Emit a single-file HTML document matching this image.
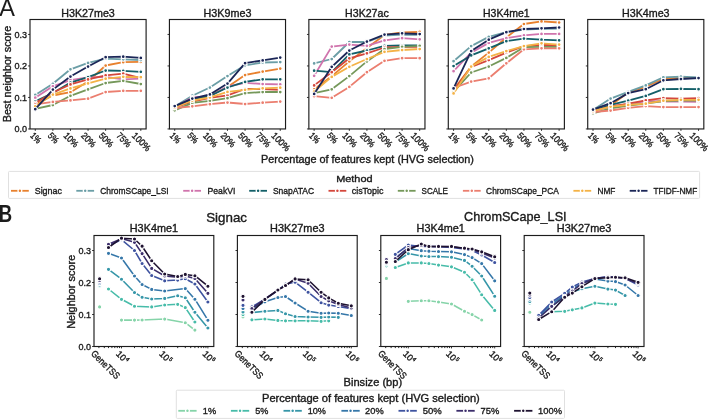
<!DOCTYPE html>
<html><head><meta charset="utf-8"><style>
html,body{margin:0;padding:0;background:#fff;overflow:hidden;}
svg{display:block;font-family:"Liberation Sans", sans-serif;}
text{stroke:#181818;stroke-width:0.35px;}
svg{will-change:transform;}
</style></head><body>
<svg width="708" height="419" viewBox="0 0 708 419">
<rect width="708" height="419" fill="#fff"/>
<polyline points="35.28,104.40 52.87,95.50 70.46,92.20 88.05,81.50 105.64,65.50 123.23,62.20 140.82,61.90" fill="none" stroke="#e8812e" stroke-width="1.8" stroke-linejoin="round" stroke-linecap="butt"/>
<circle cx="35.28" cy="104.40" r="1.95" fill="#e8812e" stroke="#fff" stroke-width="1.15"/>
<circle cx="52.87" cy="95.50" r="1.95" fill="#e8812e" stroke="#fff" stroke-width="1.15"/>
<circle cx="70.46" cy="92.20" r="1.95" fill="#e8812e" stroke="#fff" stroke-width="1.15"/>
<circle cx="88.05" cy="81.50" r="1.95" fill="#e8812e" stroke="#fff" stroke-width="1.15"/>
<circle cx="105.64" cy="65.50" r="1.95" fill="#e8812e" stroke="#fff" stroke-width="1.15"/>
<circle cx="123.23" cy="62.20" r="1.95" fill="#e8812e" stroke="#fff" stroke-width="1.15"/>
<circle cx="140.82" cy="61.90" r="1.95" fill="#e8812e" stroke="#fff" stroke-width="1.15"/>
<polyline points="35.28,94.90 52.87,83.80 70.46,69.30 88.05,62.90 105.64,58.60 123.23,59.30 140.82,60.00" fill="none" stroke="#6b9ea6" stroke-width="1.8" stroke-linejoin="round" stroke-linecap="butt"/>
<circle cx="35.28" cy="94.90" r="1.95" fill="#6b9ea6" stroke="#fff" stroke-width="1.15"/>
<circle cx="52.87" cy="83.80" r="1.95" fill="#6b9ea6" stroke="#fff" stroke-width="1.15"/>
<circle cx="70.46" cy="69.30" r="1.95" fill="#6b9ea6" stroke="#fff" stroke-width="1.15"/>
<circle cx="88.05" cy="62.90" r="1.95" fill="#6b9ea6" stroke="#fff" stroke-width="1.15"/>
<circle cx="105.64" cy="58.60" r="1.95" fill="#6b9ea6" stroke="#fff" stroke-width="1.15"/>
<circle cx="123.23" cy="59.30" r="1.95" fill="#6b9ea6" stroke="#fff" stroke-width="1.15"/>
<circle cx="140.82" cy="60.00" r="1.95" fill="#6b9ea6" stroke="#fff" stroke-width="1.15"/>
<polyline points="35.28,97.70 52.87,86.30 70.46,80.10 88.05,77.50 105.64,76.80 123.23,79.40 140.82,78.70" fill="none" stroke="#d074ad" stroke-width="1.8" stroke-linejoin="round" stroke-linecap="butt"/>
<circle cx="35.28" cy="97.70" r="1.95" fill="#d074ad" stroke="#fff" stroke-width="1.15"/>
<circle cx="52.87" cy="86.30" r="1.95" fill="#d074ad" stroke="#fff" stroke-width="1.15"/>
<circle cx="70.46" cy="80.10" r="1.95" fill="#d074ad" stroke="#fff" stroke-width="1.15"/>
<circle cx="88.05" cy="77.50" r="1.95" fill="#d074ad" stroke="#fff" stroke-width="1.15"/>
<circle cx="105.64" cy="76.80" r="1.95" fill="#d074ad" stroke="#fff" stroke-width="1.15"/>
<circle cx="123.23" cy="79.40" r="1.95" fill="#d074ad" stroke="#fff" stroke-width="1.15"/>
<circle cx="140.82" cy="78.70" r="1.95" fill="#d074ad" stroke="#fff" stroke-width="1.15"/>
<polyline points="35.28,101.30 52.87,93.00 70.46,82.60 88.05,77.20 105.64,70.50 123.23,70.80 140.82,71.80" fill="none" stroke="#135f68" stroke-width="1.8" stroke-linejoin="round" stroke-linecap="butt"/>
<circle cx="35.28" cy="101.30" r="1.95" fill="#135f68" stroke="#fff" stroke-width="1.15"/>
<circle cx="52.87" cy="93.00" r="1.95" fill="#135f68" stroke="#fff" stroke-width="1.15"/>
<circle cx="70.46" cy="82.60" r="1.95" fill="#135f68" stroke="#fff" stroke-width="1.15"/>
<circle cx="88.05" cy="77.20" r="1.95" fill="#135f68" stroke="#fff" stroke-width="1.15"/>
<circle cx="105.64" cy="70.50" r="1.95" fill="#135f68" stroke="#fff" stroke-width="1.15"/>
<circle cx="123.23" cy="70.80" r="1.95" fill="#135f68" stroke="#fff" stroke-width="1.15"/>
<circle cx="140.82" cy="71.80" r="1.95" fill="#135f68" stroke="#fff" stroke-width="1.15"/>
<polyline points="35.28,103.00 52.87,92.50 70.46,84.40 88.05,79.40 105.64,75.40 123.23,73.60 140.82,78.20" fill="none" stroke="#d4473c" stroke-width="1.8" stroke-linejoin="round" stroke-linecap="butt"/>
<circle cx="35.28" cy="103.00" r="1.95" fill="#d4473c" stroke="#fff" stroke-width="1.15"/>
<circle cx="52.87" cy="92.50" r="1.95" fill="#d4473c" stroke="#fff" stroke-width="1.15"/>
<circle cx="70.46" cy="84.40" r="1.95" fill="#d4473c" stroke="#fff" stroke-width="1.15"/>
<circle cx="88.05" cy="79.40" r="1.95" fill="#d4473c" stroke="#fff" stroke-width="1.15"/>
<circle cx="105.64" cy="75.40" r="1.95" fill="#d4473c" stroke="#fff" stroke-width="1.15"/>
<circle cx="123.23" cy="73.60" r="1.95" fill="#d4473c" stroke="#fff" stroke-width="1.15"/>
<circle cx="140.82" cy="78.20" r="1.95" fill="#d4473c" stroke="#fff" stroke-width="1.15"/>
<polyline points="35.28,108.80 52.87,105.00 70.46,95.80 88.05,89.40 105.64,83.00 123.23,80.80 140.82,84.00" fill="none" stroke="#75985a" stroke-width="1.8" stroke-linejoin="round" stroke-linecap="butt"/>
<circle cx="35.28" cy="108.80" r="1.95" fill="#75985a" stroke="#fff" stroke-width="1.15"/>
<circle cx="52.87" cy="105.00" r="1.95" fill="#75985a" stroke="#fff" stroke-width="1.15"/>
<circle cx="70.46" cy="95.80" r="1.95" fill="#75985a" stroke="#fff" stroke-width="1.15"/>
<circle cx="88.05" cy="89.40" r="1.95" fill="#75985a" stroke="#fff" stroke-width="1.15"/>
<circle cx="105.64" cy="83.00" r="1.95" fill="#75985a" stroke="#fff" stroke-width="1.15"/>
<circle cx="123.23" cy="80.80" r="1.95" fill="#75985a" stroke="#fff" stroke-width="1.15"/>
<circle cx="140.82" cy="84.00" r="1.95" fill="#75985a" stroke="#fff" stroke-width="1.15"/>
<polyline points="35.28,104.40 52.87,101.90 70.46,100.40 88.05,98.70 105.64,92.00 123.23,90.80 140.82,90.80" fill="none" stroke="#eb7e6f" stroke-width="1.8" stroke-linejoin="round" stroke-linecap="butt"/>
<circle cx="35.28" cy="104.40" r="1.95" fill="#eb7e6f" stroke="#fff" stroke-width="1.15"/>
<circle cx="52.87" cy="101.90" r="1.95" fill="#eb7e6f" stroke="#fff" stroke-width="1.15"/>
<circle cx="70.46" cy="100.40" r="1.95" fill="#eb7e6f" stroke="#fff" stroke-width="1.15"/>
<circle cx="88.05" cy="98.70" r="1.95" fill="#eb7e6f" stroke="#fff" stroke-width="1.15"/>
<circle cx="105.64" cy="92.00" r="1.95" fill="#eb7e6f" stroke="#fff" stroke-width="1.15"/>
<circle cx="123.23" cy="90.80" r="1.95" fill="#eb7e6f" stroke="#fff" stroke-width="1.15"/>
<circle cx="140.82" cy="90.80" r="1.95" fill="#eb7e6f" stroke="#fff" stroke-width="1.15"/>
<polyline points="35.28,106.30 52.87,94.60 70.46,88.40 88.05,83.40 105.64,78.70 123.23,76.80 140.82,77.20" fill="none" stroke="#f4b246" stroke-width="1.8" stroke-linejoin="round" stroke-linecap="butt"/>
<circle cx="35.28" cy="106.30" r="1.95" fill="#f4b246" stroke="#fff" stroke-width="1.15"/>
<circle cx="52.87" cy="94.60" r="1.95" fill="#f4b246" stroke="#fff" stroke-width="1.15"/>
<circle cx="70.46" cy="88.40" r="1.95" fill="#f4b246" stroke="#fff" stroke-width="1.15"/>
<circle cx="88.05" cy="83.40" r="1.95" fill="#f4b246" stroke="#fff" stroke-width="1.15"/>
<circle cx="105.64" cy="78.70" r="1.95" fill="#f4b246" stroke="#fff" stroke-width="1.15"/>
<circle cx="123.23" cy="76.80" r="1.95" fill="#f4b246" stroke="#fff" stroke-width="1.15"/>
<circle cx="140.82" cy="77.20" r="1.95" fill="#f4b246" stroke="#fff" stroke-width="1.15"/>
<polyline points="35.28,109.20 52.87,89.60 70.46,76.50 88.05,66.50 105.64,57.20 123.23,56.70 140.82,57.90" fill="none" stroke="#1b2657" stroke-width="1.8" stroke-linejoin="round" stroke-linecap="butt"/>
<circle cx="35.28" cy="109.20" r="1.95" fill="#1b2657" stroke="#fff" stroke-width="1.15"/>
<circle cx="52.87" cy="89.60" r="1.95" fill="#1b2657" stroke="#fff" stroke-width="1.15"/>
<circle cx="70.46" cy="76.50" r="1.95" fill="#1b2657" stroke="#fff" stroke-width="1.15"/>
<circle cx="88.05" cy="66.50" r="1.95" fill="#1b2657" stroke="#fff" stroke-width="1.15"/>
<circle cx="105.64" cy="57.20" r="1.95" fill="#1b2657" stroke="#fff" stroke-width="1.15"/>
<circle cx="123.23" cy="56.70" r="1.95" fill="#1b2657" stroke="#fff" stroke-width="1.15"/>
<circle cx="140.82" cy="57.90" r="1.95" fill="#1b2657" stroke="#fff" stroke-width="1.15"/>
<rect x="30.00" y="19.50" width="116.10" height="109.45" fill="none" stroke="#1c1c1c" stroke-width="1.15"/>
<line x1="28.10" y1="128.95" x2="30.00" y2="128.95" stroke="#1c1c1c" stroke-width="0.9"/>
<text x="27.00" y="132.35" font-size="9.5" text-anchor="end" fill="#1c1c1c" textLength="12.60" lengthAdjust="spacingAndGlyphs">0.0</text>
<line x1="28.10" y1="97.45" x2="30.00" y2="97.45" stroke="#1c1c1c" stroke-width="0.9"/>
<text x="27.00" y="100.85" font-size="9.5" text-anchor="end" fill="#1c1c1c" textLength="12.60" lengthAdjust="spacingAndGlyphs">0.1</text>
<line x1="28.10" y1="65.95" x2="30.00" y2="65.95" stroke="#1c1c1c" stroke-width="0.9"/>
<text x="27.00" y="69.35" font-size="9.5" text-anchor="end" fill="#1c1c1c" textLength="12.60" lengthAdjust="spacingAndGlyphs">0.2</text>
<line x1="28.10" y1="34.45" x2="30.00" y2="34.45" stroke="#1c1c1c" stroke-width="0.9"/>
<text x="27.00" y="37.85" font-size="9.5" text-anchor="end" fill="#1c1c1c" textLength="12.60" lengthAdjust="spacingAndGlyphs">0.3</text>
<line x1="35.28" y1="128.95" x2="35.28" y2="130.85" stroke="#1c1c1c" stroke-width="0.9"/>
<line x1="52.87" y1="128.95" x2="52.87" y2="130.85" stroke="#1c1c1c" stroke-width="0.9"/>
<line x1="70.46" y1="128.95" x2="70.46" y2="130.85" stroke="#1c1c1c" stroke-width="0.9"/>
<line x1="88.05" y1="128.95" x2="88.05" y2="130.85" stroke="#1c1c1c" stroke-width="0.9"/>
<line x1="105.64" y1="128.95" x2="105.64" y2="130.85" stroke="#1c1c1c" stroke-width="0.9"/>
<line x1="123.23" y1="128.95" x2="123.23" y2="130.85" stroke="#1c1c1c" stroke-width="0.9"/>
<line x1="140.82" y1="128.95" x2="140.82" y2="130.85" stroke="#1c1c1c" stroke-width="0.9"/>
<text x="88.05" y="16.90" font-size="10.2" text-anchor="middle" fill="#1c1c1c" textLength="53.50" lengthAdjust="spacingAndGlyphs">H3K27me3</text>
<text x="0" y="0" font-size="9.4" text-anchor="middle" dominant-baseline="central" fill="#1c1c1c" textLength="11.00" lengthAdjust="spacingAndGlyphs" transform="translate(36.08,137.66) rotate(45)">1%</text>
<text x="0" y="0" font-size="9.4" text-anchor="middle" dominant-baseline="central" fill="#1c1c1c" textLength="11.00" lengthAdjust="spacingAndGlyphs" transform="translate(53.67,137.66) rotate(45)">5%</text>
<text x="0" y="0" font-size="9.4" text-anchor="middle" dominant-baseline="central" fill="#1c1c1c" textLength="16.50" lengthAdjust="spacingAndGlyphs" transform="translate(71.26,139.61) rotate(45)">10%</text>
<text x="0" y="0" font-size="9.4" text-anchor="middle" dominant-baseline="central" fill="#1c1c1c" textLength="16.50" lengthAdjust="spacingAndGlyphs" transform="translate(88.85,139.61) rotate(45)">20%</text>
<text x="0" y="0" font-size="9.4" text-anchor="middle" dominant-baseline="central" fill="#1c1c1c" textLength="16.50" lengthAdjust="spacingAndGlyphs" transform="translate(106.44,139.61) rotate(45)">50%</text>
<text x="0" y="0" font-size="9.4" text-anchor="middle" dominant-baseline="central" fill="#1c1c1c" textLength="16.50" lengthAdjust="spacingAndGlyphs" transform="translate(124.03,139.61) rotate(45)">75%</text>
<text x="0" y="0" font-size="9.4" text-anchor="middle" dominant-baseline="central" fill="#1c1c1c" textLength="22.00" lengthAdjust="spacingAndGlyphs" transform="translate(141.62,141.55) rotate(45)">100%</text>
<polyline points="174.71,107.50 192.30,100.50 209.89,95.50 227.48,87.00 245.07,75.00 262.66,71.60 280.25,68.60" fill="none" stroke="#e8812e" stroke-width="1.8" stroke-linejoin="round" stroke-linecap="butt"/>
<circle cx="174.71" cy="107.50" r="1.95" fill="#e8812e" stroke="#fff" stroke-width="1.15"/>
<circle cx="192.30" cy="100.50" r="1.95" fill="#e8812e" stroke="#fff" stroke-width="1.15"/>
<circle cx="209.89" cy="95.50" r="1.95" fill="#e8812e" stroke="#fff" stroke-width="1.15"/>
<circle cx="227.48" cy="87.00" r="1.95" fill="#e8812e" stroke="#fff" stroke-width="1.15"/>
<circle cx="245.07" cy="75.00" r="1.95" fill="#e8812e" stroke="#fff" stroke-width="1.15"/>
<circle cx="262.66" cy="71.60" r="1.95" fill="#e8812e" stroke="#fff" stroke-width="1.15"/>
<circle cx="280.25" cy="68.60" r="1.95" fill="#e8812e" stroke="#fff" stroke-width="1.15"/>
<polyline points="174.71,106.50 192.30,95.70 209.89,87.50 227.48,76.10 245.07,65.30 262.66,62.50 280.25,62.10" fill="none" stroke="#6b9ea6" stroke-width="1.8" stroke-linejoin="round" stroke-linecap="butt"/>
<circle cx="174.71" cy="106.50" r="1.95" fill="#6b9ea6" stroke="#fff" stroke-width="1.15"/>
<circle cx="192.30" cy="95.70" r="1.95" fill="#6b9ea6" stroke="#fff" stroke-width="1.15"/>
<circle cx="209.89" cy="87.50" r="1.95" fill="#6b9ea6" stroke="#fff" stroke-width="1.15"/>
<circle cx="227.48" cy="76.10" r="1.95" fill="#6b9ea6" stroke="#fff" stroke-width="1.15"/>
<circle cx="245.07" cy="65.30" r="1.95" fill="#6b9ea6" stroke="#fff" stroke-width="1.15"/>
<circle cx="262.66" cy="62.50" r="1.95" fill="#6b9ea6" stroke="#fff" stroke-width="1.15"/>
<circle cx="280.25" cy="62.10" r="1.95" fill="#6b9ea6" stroke="#fff" stroke-width="1.15"/>
<polyline points="174.71,107.00 192.30,97.50 209.89,96.20 227.48,86.50 245.07,82.90 262.66,84.00 280.25,84.40" fill="none" stroke="#d074ad" stroke-width="1.8" stroke-linejoin="round" stroke-linecap="butt"/>
<circle cx="174.71" cy="107.00" r="1.95" fill="#d074ad" stroke="#fff" stroke-width="1.15"/>
<circle cx="192.30" cy="97.50" r="1.95" fill="#d074ad" stroke="#fff" stroke-width="1.15"/>
<circle cx="209.89" cy="96.20" r="1.95" fill="#d074ad" stroke="#fff" stroke-width="1.15"/>
<circle cx="227.48" cy="86.50" r="1.95" fill="#d074ad" stroke="#fff" stroke-width="1.15"/>
<circle cx="245.07" cy="82.90" r="1.95" fill="#d074ad" stroke="#fff" stroke-width="1.15"/>
<circle cx="262.66" cy="84.00" r="1.95" fill="#d074ad" stroke="#fff" stroke-width="1.15"/>
<circle cx="280.25" cy="84.40" r="1.95" fill="#d074ad" stroke="#fff" stroke-width="1.15"/>
<polyline points="174.71,107.00 192.30,99.50 209.89,96.00 227.48,87.50 245.07,81.90 262.66,79.30 280.25,79.30" fill="none" stroke="#135f68" stroke-width="1.8" stroke-linejoin="round" stroke-linecap="butt"/>
<circle cx="174.71" cy="107.00" r="1.95" fill="#135f68" stroke="#fff" stroke-width="1.15"/>
<circle cx="192.30" cy="99.50" r="1.95" fill="#135f68" stroke="#fff" stroke-width="1.15"/>
<circle cx="209.89" cy="96.00" r="1.95" fill="#135f68" stroke="#fff" stroke-width="1.15"/>
<circle cx="227.48" cy="87.50" r="1.95" fill="#135f68" stroke="#fff" stroke-width="1.15"/>
<circle cx="245.07" cy="81.90" r="1.95" fill="#135f68" stroke="#fff" stroke-width="1.15"/>
<circle cx="262.66" cy="79.30" r="1.95" fill="#135f68" stroke="#fff" stroke-width="1.15"/>
<circle cx="280.25" cy="79.30" r="1.95" fill="#135f68" stroke="#fff" stroke-width="1.15"/>
<polyline points="174.71,107.50 192.30,101.60 209.89,97.80 227.48,95.30 245.07,89.00 262.66,89.00 280.25,89.80" fill="none" stroke="#d4473c" stroke-width="1.8" stroke-linejoin="round" stroke-linecap="butt"/>
<circle cx="174.71" cy="107.50" r="1.95" fill="#d4473c" stroke="#fff" stroke-width="1.15"/>
<circle cx="192.30" cy="101.60" r="1.95" fill="#d4473c" stroke="#fff" stroke-width="1.15"/>
<circle cx="209.89" cy="97.80" r="1.95" fill="#d4473c" stroke="#fff" stroke-width="1.15"/>
<circle cx="227.48" cy="95.30" r="1.95" fill="#d4473c" stroke="#fff" stroke-width="1.15"/>
<circle cx="245.07" cy="89.00" r="1.95" fill="#d4473c" stroke="#fff" stroke-width="1.15"/>
<circle cx="262.66" cy="89.00" r="1.95" fill="#d4473c" stroke="#fff" stroke-width="1.15"/>
<circle cx="280.25" cy="89.80" r="1.95" fill="#d4473c" stroke="#fff" stroke-width="1.15"/>
<polyline points="174.71,110.30 192.30,102.90 209.89,100.80 227.48,98.20 245.07,93.20 262.66,92.00 280.25,92.00" fill="none" stroke="#75985a" stroke-width="1.8" stroke-linejoin="round" stroke-linecap="butt"/>
<circle cx="174.71" cy="110.30" r="1.95" fill="#75985a" stroke="#fff" stroke-width="1.15"/>
<circle cx="192.30" cy="102.90" r="1.95" fill="#75985a" stroke="#fff" stroke-width="1.15"/>
<circle cx="209.89" cy="100.80" r="1.95" fill="#75985a" stroke="#fff" stroke-width="1.15"/>
<circle cx="227.48" cy="98.20" r="1.95" fill="#75985a" stroke="#fff" stroke-width="1.15"/>
<circle cx="245.07" cy="93.20" r="1.95" fill="#75985a" stroke="#fff" stroke-width="1.15"/>
<circle cx="262.66" cy="92.00" r="1.95" fill="#75985a" stroke="#fff" stroke-width="1.15"/>
<circle cx="280.25" cy="92.00" r="1.95" fill="#75985a" stroke="#fff" stroke-width="1.15"/>
<polyline points="174.71,108.00 192.30,106.30 209.89,104.20 227.48,102.50 245.07,104.00 262.66,102.70 280.25,101.60" fill="none" stroke="#eb7e6f" stroke-width="1.8" stroke-linejoin="round" stroke-linecap="butt"/>
<circle cx="174.71" cy="108.00" r="1.95" fill="#eb7e6f" stroke="#fff" stroke-width="1.15"/>
<circle cx="192.30" cy="106.30" r="1.95" fill="#eb7e6f" stroke="#fff" stroke-width="1.15"/>
<circle cx="209.89" cy="104.20" r="1.95" fill="#eb7e6f" stroke="#fff" stroke-width="1.15"/>
<circle cx="227.48" cy="102.50" r="1.95" fill="#eb7e6f" stroke="#fff" stroke-width="1.15"/>
<circle cx="245.07" cy="104.00" r="1.95" fill="#eb7e6f" stroke="#fff" stroke-width="1.15"/>
<circle cx="262.66" cy="102.70" r="1.95" fill="#eb7e6f" stroke="#fff" stroke-width="1.15"/>
<circle cx="280.25" cy="101.60" r="1.95" fill="#eb7e6f" stroke="#fff" stroke-width="1.15"/>
<polyline points="174.71,107.50 192.30,100.50 209.89,97.40 227.48,91.90 245.07,89.80 262.66,88.30 280.25,87.70" fill="none" stroke="#f4b246" stroke-width="1.8" stroke-linejoin="round" stroke-linecap="butt"/>
<circle cx="174.71" cy="107.50" r="1.95" fill="#f4b246" stroke="#fff" stroke-width="1.15"/>
<circle cx="192.30" cy="100.50" r="1.95" fill="#f4b246" stroke="#fff" stroke-width="1.15"/>
<circle cx="209.89" cy="97.40" r="1.95" fill="#f4b246" stroke="#fff" stroke-width="1.15"/>
<circle cx="227.48" cy="91.90" r="1.95" fill="#f4b246" stroke="#fff" stroke-width="1.15"/>
<circle cx="245.07" cy="89.80" r="1.95" fill="#f4b246" stroke="#fff" stroke-width="1.15"/>
<circle cx="262.66" cy="88.30" r="1.95" fill="#f4b246" stroke="#fff" stroke-width="1.15"/>
<circle cx="280.25" cy="87.70" r="1.95" fill="#f4b246" stroke="#fff" stroke-width="1.15"/>
<polyline points="174.71,106.10 192.30,98.60 209.89,94.40 227.48,83.60 245.07,63.20 262.66,60.40 280.25,57.60" fill="none" stroke="#1b2657" stroke-width="1.8" stroke-linejoin="round" stroke-linecap="butt"/>
<circle cx="174.71" cy="106.10" r="1.95" fill="#1b2657" stroke="#fff" stroke-width="1.15"/>
<circle cx="192.30" cy="98.60" r="1.95" fill="#1b2657" stroke="#fff" stroke-width="1.15"/>
<circle cx="209.89" cy="94.40" r="1.95" fill="#1b2657" stroke="#fff" stroke-width="1.15"/>
<circle cx="227.48" cy="83.60" r="1.95" fill="#1b2657" stroke="#fff" stroke-width="1.15"/>
<circle cx="245.07" cy="63.20" r="1.95" fill="#1b2657" stroke="#fff" stroke-width="1.15"/>
<circle cx="262.66" cy="60.40" r="1.95" fill="#1b2657" stroke="#fff" stroke-width="1.15"/>
<circle cx="280.25" cy="57.60" r="1.95" fill="#1b2657" stroke="#fff" stroke-width="1.15"/>
<rect x="169.43" y="19.50" width="116.10" height="109.45" fill="none" stroke="#1c1c1c" stroke-width="1.15"/>
<line x1="167.53" y1="128.95" x2="169.43" y2="128.95" stroke="#1c1c1c" stroke-width="0.9"/>
<line x1="167.53" y1="97.45" x2="169.43" y2="97.45" stroke="#1c1c1c" stroke-width="0.9"/>
<line x1="167.53" y1="65.95" x2="169.43" y2="65.95" stroke="#1c1c1c" stroke-width="0.9"/>
<line x1="167.53" y1="34.45" x2="169.43" y2="34.45" stroke="#1c1c1c" stroke-width="0.9"/>
<line x1="174.71" y1="128.95" x2="174.71" y2="130.85" stroke="#1c1c1c" stroke-width="0.9"/>
<line x1="192.30" y1="128.95" x2="192.30" y2="130.85" stroke="#1c1c1c" stroke-width="0.9"/>
<line x1="209.89" y1="128.95" x2="209.89" y2="130.85" stroke="#1c1c1c" stroke-width="0.9"/>
<line x1="227.48" y1="128.95" x2="227.48" y2="130.85" stroke="#1c1c1c" stroke-width="0.9"/>
<line x1="245.07" y1="128.95" x2="245.07" y2="130.85" stroke="#1c1c1c" stroke-width="0.9"/>
<line x1="262.66" y1="128.95" x2="262.66" y2="130.85" stroke="#1c1c1c" stroke-width="0.9"/>
<line x1="280.25" y1="128.95" x2="280.25" y2="130.85" stroke="#1c1c1c" stroke-width="0.9"/>
<text x="227.48" y="16.90" font-size="10.2" text-anchor="middle" fill="#1c1c1c" textLength="47.90" lengthAdjust="spacingAndGlyphs">H3K9me3</text>
<text x="0" y="0" font-size="9.4" text-anchor="middle" dominant-baseline="central" fill="#1c1c1c" textLength="11.00" lengthAdjust="spacingAndGlyphs" transform="translate(175.51,137.66) rotate(45)">1%</text>
<text x="0" y="0" font-size="9.4" text-anchor="middle" dominant-baseline="central" fill="#1c1c1c" textLength="11.00" lengthAdjust="spacingAndGlyphs" transform="translate(193.10,137.66) rotate(45)">5%</text>
<text x="0" y="0" font-size="9.4" text-anchor="middle" dominant-baseline="central" fill="#1c1c1c" textLength="16.50" lengthAdjust="spacingAndGlyphs" transform="translate(210.69,139.61) rotate(45)">10%</text>
<text x="0" y="0" font-size="9.4" text-anchor="middle" dominant-baseline="central" fill="#1c1c1c" textLength="16.50" lengthAdjust="spacingAndGlyphs" transform="translate(228.28,139.61) rotate(45)">20%</text>
<text x="0" y="0" font-size="9.4" text-anchor="middle" dominant-baseline="central" fill="#1c1c1c" textLength="16.50" lengthAdjust="spacingAndGlyphs" transform="translate(245.87,139.61) rotate(45)">50%</text>
<text x="0" y="0" font-size="9.4" text-anchor="middle" dominant-baseline="central" fill="#1c1c1c" textLength="16.50" lengthAdjust="spacingAndGlyphs" transform="translate(263.46,139.61) rotate(45)">75%</text>
<text x="0" y="0" font-size="9.4" text-anchor="middle" dominant-baseline="central" fill="#1c1c1c" textLength="22.00" lengthAdjust="spacingAndGlyphs" transform="translate(281.05,141.55) rotate(45)">100%</text>
<polyline points="314.14,89.30 331.73,76.10 349.32,61.40 366.91,48.00 384.50,35.00 402.09,32.50 419.68,31.80" fill="none" stroke="#e8812e" stroke-width="1.8" stroke-linejoin="round" stroke-linecap="butt"/>
<circle cx="314.14" cy="89.30" r="1.95" fill="#e8812e" stroke="#fff" stroke-width="1.15"/>
<circle cx="331.73" cy="76.10" r="1.95" fill="#e8812e" stroke="#fff" stroke-width="1.15"/>
<circle cx="349.32" cy="61.40" r="1.95" fill="#e8812e" stroke="#fff" stroke-width="1.15"/>
<circle cx="366.91" cy="48.00" r="1.95" fill="#e8812e" stroke="#fff" stroke-width="1.15"/>
<circle cx="384.50" cy="35.00" r="1.95" fill="#e8812e" stroke="#fff" stroke-width="1.15"/>
<circle cx="402.09" cy="32.50" r="1.95" fill="#e8812e" stroke="#fff" stroke-width="1.15"/>
<circle cx="419.68" cy="31.80" r="1.95" fill="#e8812e" stroke="#fff" stroke-width="1.15"/>
<polyline points="314.14,63.40 331.73,59.00 349.32,42.00 366.91,42.00 384.50,35.50 402.09,34.50 419.68,34.80" fill="none" stroke="#6b9ea6" stroke-width="1.8" stroke-linejoin="round" stroke-linecap="butt"/>
<circle cx="314.14" cy="63.40" r="1.95" fill="#6b9ea6" stroke="#fff" stroke-width="1.15"/>
<circle cx="331.73" cy="59.00" r="1.95" fill="#6b9ea6" stroke="#fff" stroke-width="1.15"/>
<circle cx="349.32" cy="42.00" r="1.95" fill="#6b9ea6" stroke="#fff" stroke-width="1.15"/>
<circle cx="366.91" cy="42.00" r="1.95" fill="#6b9ea6" stroke="#fff" stroke-width="1.15"/>
<circle cx="384.50" cy="35.50" r="1.95" fill="#6b9ea6" stroke="#fff" stroke-width="1.15"/>
<circle cx="402.09" cy="34.50" r="1.95" fill="#6b9ea6" stroke="#fff" stroke-width="1.15"/>
<circle cx="419.68" cy="34.80" r="1.95" fill="#6b9ea6" stroke="#fff" stroke-width="1.15"/>
<polyline points="314.14,75.80 331.73,46.60 349.32,44.60 366.91,45.80 384.50,40.40 402.09,38.20 419.68,39.30" fill="none" stroke="#d074ad" stroke-width="1.8" stroke-linejoin="round" stroke-linecap="butt"/>
<circle cx="314.14" cy="75.80" r="1.95" fill="#d074ad" stroke="#fff" stroke-width="1.15"/>
<circle cx="331.73" cy="46.60" r="1.95" fill="#d074ad" stroke="#fff" stroke-width="1.15"/>
<circle cx="349.32" cy="44.60" r="1.95" fill="#d074ad" stroke="#fff" stroke-width="1.15"/>
<circle cx="366.91" cy="45.80" r="1.95" fill="#d074ad" stroke="#fff" stroke-width="1.15"/>
<circle cx="384.50" cy="40.40" r="1.95" fill="#d074ad" stroke="#fff" stroke-width="1.15"/>
<circle cx="402.09" cy="38.20" r="1.95" fill="#d074ad" stroke="#fff" stroke-width="1.15"/>
<circle cx="419.68" cy="39.30" r="1.95" fill="#d074ad" stroke="#fff" stroke-width="1.15"/>
<polyline points="314.14,70.70 331.73,72.20 349.32,54.40 366.91,50.50 384.50,45.80 402.09,45.30 419.68,45.30" fill="none" stroke="#135f68" stroke-width="1.8" stroke-linejoin="round" stroke-linecap="butt"/>
<circle cx="314.14" cy="70.70" r="1.95" fill="#135f68" stroke="#fff" stroke-width="1.15"/>
<circle cx="331.73" cy="72.20" r="1.95" fill="#135f68" stroke="#fff" stroke-width="1.15"/>
<circle cx="349.32" cy="54.40" r="1.95" fill="#135f68" stroke="#fff" stroke-width="1.15"/>
<circle cx="366.91" cy="50.50" r="1.95" fill="#135f68" stroke="#fff" stroke-width="1.15"/>
<circle cx="384.50" cy="45.80" r="1.95" fill="#135f68" stroke="#fff" stroke-width="1.15"/>
<circle cx="402.09" cy="45.30" r="1.95" fill="#135f68" stroke="#fff" stroke-width="1.15"/>
<circle cx="419.68" cy="45.30" r="1.95" fill="#135f68" stroke="#fff" stroke-width="1.15"/>
<polyline points="314.14,85.40 331.73,72.20 349.32,58.30 366.91,53.30 384.50,47.50 402.09,46.80 419.68,46.80" fill="none" stroke="#d4473c" stroke-width="1.8" stroke-linejoin="round" stroke-linecap="butt"/>
<circle cx="314.14" cy="85.40" r="1.95" fill="#d4473c" stroke="#fff" stroke-width="1.15"/>
<circle cx="331.73" cy="72.20" r="1.95" fill="#d4473c" stroke="#fff" stroke-width="1.15"/>
<circle cx="349.32" cy="58.30" r="1.95" fill="#d4473c" stroke="#fff" stroke-width="1.15"/>
<circle cx="366.91" cy="53.30" r="1.95" fill="#d4473c" stroke="#fff" stroke-width="1.15"/>
<circle cx="384.50" cy="47.50" r="1.95" fill="#d4473c" stroke="#fff" stroke-width="1.15"/>
<circle cx="402.09" cy="46.80" r="1.95" fill="#d4473c" stroke="#fff" stroke-width="1.15"/>
<circle cx="419.68" cy="46.80" r="1.95" fill="#d4473c" stroke="#fff" stroke-width="1.15"/>
<polyline points="314.14,93.10 331.73,89.30 349.32,76.10 366.91,61.40 384.50,49.00 402.09,46.80 419.68,45.80" fill="none" stroke="#75985a" stroke-width="1.8" stroke-linejoin="round" stroke-linecap="butt"/>
<circle cx="314.14" cy="93.10" r="1.95" fill="#75985a" stroke="#fff" stroke-width="1.15"/>
<circle cx="331.73" cy="89.30" r="1.95" fill="#75985a" stroke="#fff" stroke-width="1.15"/>
<circle cx="349.32" cy="76.10" r="1.95" fill="#75985a" stroke="#fff" stroke-width="1.15"/>
<circle cx="366.91" cy="61.40" r="1.95" fill="#75985a" stroke="#fff" stroke-width="1.15"/>
<circle cx="384.50" cy="49.00" r="1.95" fill="#75985a" stroke="#fff" stroke-width="1.15"/>
<circle cx="402.09" cy="46.80" r="1.95" fill="#75985a" stroke="#fff" stroke-width="1.15"/>
<circle cx="419.68" cy="45.80" r="1.95" fill="#75985a" stroke="#fff" stroke-width="1.15"/>
<polyline points="314.14,96.20 331.73,97.80 349.32,86.90 366.91,72.20 384.50,60.80 402.09,58.20 419.68,58.20" fill="none" stroke="#eb7e6f" stroke-width="1.8" stroke-linejoin="round" stroke-linecap="butt"/>
<circle cx="314.14" cy="96.20" r="1.95" fill="#eb7e6f" stroke="#fff" stroke-width="1.15"/>
<circle cx="331.73" cy="97.80" r="1.95" fill="#eb7e6f" stroke="#fff" stroke-width="1.15"/>
<circle cx="349.32" cy="86.90" r="1.95" fill="#eb7e6f" stroke="#fff" stroke-width="1.15"/>
<circle cx="366.91" cy="72.20" r="1.95" fill="#eb7e6f" stroke="#fff" stroke-width="1.15"/>
<circle cx="384.50" cy="60.80" r="1.95" fill="#eb7e6f" stroke="#fff" stroke-width="1.15"/>
<circle cx="402.09" cy="58.20" r="1.95" fill="#eb7e6f" stroke="#fff" stroke-width="1.15"/>
<circle cx="419.68" cy="58.20" r="1.95" fill="#eb7e6f" stroke="#fff" stroke-width="1.15"/>
<polyline points="314.14,91.60 331.73,76.90 349.32,66.80 366.91,59.00 384.50,51.80 402.09,50.00 419.68,49.00" fill="none" stroke="#f4b246" stroke-width="1.8" stroke-linejoin="round" stroke-linecap="butt"/>
<circle cx="314.14" cy="91.60" r="1.95" fill="#f4b246" stroke="#fff" stroke-width="1.15"/>
<circle cx="331.73" cy="76.90" r="1.95" fill="#f4b246" stroke="#fff" stroke-width="1.15"/>
<circle cx="349.32" cy="66.80" r="1.95" fill="#f4b246" stroke="#fff" stroke-width="1.15"/>
<circle cx="366.91" cy="59.00" r="1.95" fill="#f4b246" stroke="#fff" stroke-width="1.15"/>
<circle cx="384.50" cy="51.80" r="1.95" fill="#f4b246" stroke="#fff" stroke-width="1.15"/>
<circle cx="402.09" cy="50.00" r="1.95" fill="#f4b246" stroke="#fff" stroke-width="1.15"/>
<circle cx="419.68" cy="49.00" r="1.95" fill="#f4b246" stroke="#fff" stroke-width="1.15"/>
<polyline points="314.14,93.90 331.73,66.80 349.32,50.50 366.91,41.50 384.50,34.60 402.09,33.30 419.68,34.00" fill="none" stroke="#1b2657" stroke-width="1.8" stroke-linejoin="round" stroke-linecap="butt"/>
<circle cx="314.14" cy="93.90" r="1.95" fill="#1b2657" stroke="#fff" stroke-width="1.15"/>
<circle cx="331.73" cy="66.80" r="1.95" fill="#1b2657" stroke="#fff" stroke-width="1.15"/>
<circle cx="349.32" cy="50.50" r="1.95" fill="#1b2657" stroke="#fff" stroke-width="1.15"/>
<circle cx="366.91" cy="41.50" r="1.95" fill="#1b2657" stroke="#fff" stroke-width="1.15"/>
<circle cx="384.50" cy="34.60" r="1.95" fill="#1b2657" stroke="#fff" stroke-width="1.15"/>
<circle cx="402.09" cy="33.30" r="1.95" fill="#1b2657" stroke="#fff" stroke-width="1.15"/>
<circle cx="419.68" cy="34.00" r="1.95" fill="#1b2657" stroke="#fff" stroke-width="1.15"/>
<rect x="308.86" y="19.50" width="116.10" height="109.45" fill="none" stroke="#1c1c1c" stroke-width="1.15"/>
<line x1="306.96" y1="128.95" x2="308.86" y2="128.95" stroke="#1c1c1c" stroke-width="0.9"/>
<line x1="306.96" y1="97.45" x2="308.86" y2="97.45" stroke="#1c1c1c" stroke-width="0.9"/>
<line x1="306.96" y1="65.95" x2="308.86" y2="65.95" stroke="#1c1c1c" stroke-width="0.9"/>
<line x1="306.96" y1="34.45" x2="308.86" y2="34.45" stroke="#1c1c1c" stroke-width="0.9"/>
<line x1="314.14" y1="128.95" x2="314.14" y2="130.85" stroke="#1c1c1c" stroke-width="0.9"/>
<line x1="331.73" y1="128.95" x2="331.73" y2="130.85" stroke="#1c1c1c" stroke-width="0.9"/>
<line x1="349.32" y1="128.95" x2="349.32" y2="130.85" stroke="#1c1c1c" stroke-width="0.9"/>
<line x1="366.91" y1="128.95" x2="366.91" y2="130.85" stroke="#1c1c1c" stroke-width="0.9"/>
<line x1="384.50" y1="128.95" x2="384.50" y2="130.85" stroke="#1c1c1c" stroke-width="0.9"/>
<line x1="402.09" y1="128.95" x2="402.09" y2="130.85" stroke="#1c1c1c" stroke-width="0.9"/>
<line x1="419.68" y1="128.95" x2="419.68" y2="130.85" stroke="#1c1c1c" stroke-width="0.9"/>
<text x="366.91" y="16.90" font-size="10.2" text-anchor="middle" fill="#1c1c1c" textLength="43.60" lengthAdjust="spacingAndGlyphs">H3K27ac</text>
<text x="0" y="0" font-size="9.4" text-anchor="middle" dominant-baseline="central" fill="#1c1c1c" textLength="11.00" lengthAdjust="spacingAndGlyphs" transform="translate(314.94,137.66) rotate(45)">1%</text>
<text x="0" y="0" font-size="9.4" text-anchor="middle" dominant-baseline="central" fill="#1c1c1c" textLength="11.00" lengthAdjust="spacingAndGlyphs" transform="translate(332.53,137.66) rotate(45)">5%</text>
<text x="0" y="0" font-size="9.4" text-anchor="middle" dominant-baseline="central" fill="#1c1c1c" textLength="16.50" lengthAdjust="spacingAndGlyphs" transform="translate(350.12,139.61) rotate(45)">10%</text>
<text x="0" y="0" font-size="9.4" text-anchor="middle" dominant-baseline="central" fill="#1c1c1c" textLength="16.50" lengthAdjust="spacingAndGlyphs" transform="translate(367.71,139.61) rotate(45)">20%</text>
<text x="0" y="0" font-size="9.4" text-anchor="middle" dominant-baseline="central" fill="#1c1c1c" textLength="16.50" lengthAdjust="spacingAndGlyphs" transform="translate(385.30,139.61) rotate(45)">50%</text>
<text x="0" y="0" font-size="9.4" text-anchor="middle" dominant-baseline="central" fill="#1c1c1c" textLength="16.50" lengthAdjust="spacingAndGlyphs" transform="translate(402.89,139.61) rotate(45)">75%</text>
<text x="0" y="0" font-size="9.4" text-anchor="middle" dominant-baseline="central" fill="#1c1c1c" textLength="22.00" lengthAdjust="spacingAndGlyphs" transform="translate(420.48,141.55) rotate(45)">100%</text>
<polyline points="453.57,89.50 471.16,66.50 488.75,52.60 506.34,37.50 523.93,24.00 541.52,21.40 559.11,22.50" fill="none" stroke="#e8812e" stroke-width="1.8" stroke-linejoin="round" stroke-linecap="butt"/>
<circle cx="453.57" cy="89.50" r="1.95" fill="#e8812e" stroke="#fff" stroke-width="1.15"/>
<circle cx="471.16" cy="66.50" r="1.95" fill="#e8812e" stroke="#fff" stroke-width="1.15"/>
<circle cx="488.75" cy="52.60" r="1.95" fill="#e8812e" stroke="#fff" stroke-width="1.15"/>
<circle cx="506.34" cy="37.50" r="1.95" fill="#e8812e" stroke="#fff" stroke-width="1.15"/>
<circle cx="523.93" cy="24.00" r="1.95" fill="#e8812e" stroke="#fff" stroke-width="1.15"/>
<circle cx="541.52" cy="21.40" r="1.95" fill="#e8812e" stroke="#fff" stroke-width="1.15"/>
<circle cx="559.11" cy="22.50" r="1.95" fill="#e8812e" stroke="#fff" stroke-width="1.15"/>
<polyline points="453.57,61.20 471.16,46.10 488.75,36.90 506.34,32.20 523.93,29.50 541.52,28.80 559.11,28.50" fill="none" stroke="#6b9ea6" stroke-width="1.8" stroke-linejoin="round" stroke-linecap="butt"/>
<circle cx="453.57" cy="61.20" r="1.95" fill="#6b9ea6" stroke="#fff" stroke-width="1.15"/>
<circle cx="471.16" cy="46.10" r="1.95" fill="#6b9ea6" stroke="#fff" stroke-width="1.15"/>
<circle cx="488.75" cy="36.90" r="1.95" fill="#6b9ea6" stroke="#fff" stroke-width="1.15"/>
<circle cx="506.34" cy="32.20" r="1.95" fill="#6b9ea6" stroke="#fff" stroke-width="1.15"/>
<circle cx="523.93" cy="29.50" r="1.95" fill="#6b9ea6" stroke="#fff" stroke-width="1.15"/>
<circle cx="541.52" cy="28.80" r="1.95" fill="#6b9ea6" stroke="#fff" stroke-width="1.15"/>
<circle cx="559.11" cy="28.50" r="1.95" fill="#6b9ea6" stroke="#fff" stroke-width="1.15"/>
<polyline points="453.57,71.20 471.16,52.60 488.75,42.90 506.34,38.20 523.93,35.40 541.52,33.90 559.11,33.90" fill="none" stroke="#d074ad" stroke-width="1.8" stroke-linejoin="round" stroke-linecap="butt"/>
<circle cx="453.57" cy="71.20" r="1.95" fill="#d074ad" stroke="#fff" stroke-width="1.15"/>
<circle cx="471.16" cy="52.60" r="1.95" fill="#d074ad" stroke="#fff" stroke-width="1.15"/>
<circle cx="488.75" cy="42.90" r="1.95" fill="#d074ad" stroke="#fff" stroke-width="1.15"/>
<circle cx="506.34" cy="38.20" r="1.95" fill="#d074ad" stroke="#fff" stroke-width="1.15"/>
<circle cx="523.93" cy="35.40" r="1.95" fill="#d074ad" stroke="#fff" stroke-width="1.15"/>
<circle cx="541.52" cy="33.90" r="1.95" fill="#d074ad" stroke="#fff" stroke-width="1.15"/>
<circle cx="559.11" cy="33.90" r="1.95" fill="#d074ad" stroke="#fff" stroke-width="1.15"/>
<polyline points="453.57,66.10 471.16,55.40 488.75,48.30 506.34,41.20 523.93,38.60 541.52,39.70 559.11,40.30" fill="none" stroke="#135f68" stroke-width="1.8" stroke-linejoin="round" stroke-linecap="butt"/>
<circle cx="453.57" cy="66.10" r="1.95" fill="#135f68" stroke="#fff" stroke-width="1.15"/>
<circle cx="471.16" cy="55.40" r="1.95" fill="#135f68" stroke="#fff" stroke-width="1.15"/>
<circle cx="488.75" cy="48.30" r="1.95" fill="#135f68" stroke="#fff" stroke-width="1.15"/>
<circle cx="506.34" cy="41.20" r="1.95" fill="#135f68" stroke="#fff" stroke-width="1.15"/>
<circle cx="523.93" cy="38.60" r="1.95" fill="#135f68" stroke="#fff" stroke-width="1.15"/>
<circle cx="541.52" cy="39.70" r="1.95" fill="#135f68" stroke="#fff" stroke-width="1.15"/>
<circle cx="559.11" cy="40.30" r="1.95" fill="#135f68" stroke="#fff" stroke-width="1.15"/>
<polyline points="453.57,90.50 471.16,67.00 488.75,60.10 506.34,52.60 523.93,46.10 541.52,45.00 559.11,45.00" fill="none" stroke="#d4473c" stroke-width="1.8" stroke-linejoin="round" stroke-linecap="butt"/>
<circle cx="453.57" cy="90.50" r="1.95" fill="#d4473c" stroke="#fff" stroke-width="1.15"/>
<circle cx="471.16" cy="67.00" r="1.95" fill="#d4473c" stroke="#fff" stroke-width="1.15"/>
<circle cx="488.75" cy="60.10" r="1.95" fill="#d4473c" stroke="#fff" stroke-width="1.15"/>
<circle cx="506.34" cy="52.60" r="1.95" fill="#d4473c" stroke="#fff" stroke-width="1.15"/>
<circle cx="523.93" cy="46.10" r="1.95" fill="#d4473c" stroke="#fff" stroke-width="1.15"/>
<circle cx="541.52" cy="45.00" r="1.95" fill="#d4473c" stroke="#fff" stroke-width="1.15"/>
<circle cx="559.11" cy="45.00" r="1.95" fill="#d4473c" stroke="#fff" stroke-width="1.15"/>
<polyline points="453.57,91.90 471.16,72.50 488.75,66.50 506.34,57.90 523.93,47.20 541.52,46.80 559.11,46.80" fill="none" stroke="#75985a" stroke-width="1.8" stroke-linejoin="round" stroke-linecap="butt"/>
<circle cx="453.57" cy="91.90" r="1.95" fill="#75985a" stroke="#fff" stroke-width="1.15"/>
<circle cx="471.16" cy="72.50" r="1.95" fill="#75985a" stroke="#fff" stroke-width="1.15"/>
<circle cx="488.75" cy="66.50" r="1.95" fill="#75985a" stroke="#fff" stroke-width="1.15"/>
<circle cx="506.34" cy="57.90" r="1.95" fill="#75985a" stroke="#fff" stroke-width="1.15"/>
<circle cx="523.93" cy="47.20" r="1.95" fill="#75985a" stroke="#fff" stroke-width="1.15"/>
<circle cx="541.52" cy="46.80" r="1.95" fill="#75985a" stroke="#fff" stroke-width="1.15"/>
<circle cx="559.11" cy="46.80" r="1.95" fill="#75985a" stroke="#fff" stroke-width="1.15"/>
<polyline points="453.57,88.00 471.16,81.60 488.75,78.30 506.34,63.30 523.93,49.30 541.52,48.30 559.11,48.30" fill="none" stroke="#eb7e6f" stroke-width="1.8" stroke-linejoin="round" stroke-linecap="butt"/>
<circle cx="453.57" cy="88.00" r="1.95" fill="#eb7e6f" stroke="#fff" stroke-width="1.15"/>
<circle cx="471.16" cy="81.60" r="1.95" fill="#eb7e6f" stroke="#fff" stroke-width="1.15"/>
<circle cx="488.75" cy="78.30" r="1.95" fill="#eb7e6f" stroke="#fff" stroke-width="1.15"/>
<circle cx="506.34" cy="63.30" r="1.95" fill="#eb7e6f" stroke="#fff" stroke-width="1.15"/>
<circle cx="523.93" cy="49.30" r="1.95" fill="#eb7e6f" stroke="#fff" stroke-width="1.15"/>
<circle cx="541.52" cy="48.30" r="1.95" fill="#eb7e6f" stroke="#fff" stroke-width="1.15"/>
<circle cx="559.11" cy="48.30" r="1.95" fill="#eb7e6f" stroke="#fff" stroke-width="1.15"/>
<polyline points="453.57,93.40 471.16,66.50 488.75,56.90 506.34,51.10 523.93,46.10 541.52,43.30 559.11,44.60" fill="none" stroke="#f4b246" stroke-width="1.8" stroke-linejoin="round" stroke-linecap="butt"/>
<circle cx="453.57" cy="93.40" r="1.95" fill="#f4b246" stroke="#fff" stroke-width="1.15"/>
<circle cx="471.16" cy="66.50" r="1.95" fill="#f4b246" stroke="#fff" stroke-width="1.15"/>
<circle cx="488.75" cy="56.90" r="1.95" fill="#f4b246" stroke="#fff" stroke-width="1.15"/>
<circle cx="506.34" cy="51.10" r="1.95" fill="#f4b246" stroke="#fff" stroke-width="1.15"/>
<circle cx="523.93" cy="46.10" r="1.95" fill="#f4b246" stroke="#fff" stroke-width="1.15"/>
<circle cx="541.52" cy="43.30" r="1.95" fill="#f4b246" stroke="#fff" stroke-width="1.15"/>
<circle cx="559.11" cy="44.60" r="1.95" fill="#f4b246" stroke="#fff" stroke-width="1.15"/>
<polyline points="453.57,88.40 471.16,51.10 488.75,39.70 506.34,32.20 523.93,29.00 541.52,28.30 559.11,27.50" fill="none" stroke="#1b2657" stroke-width="1.8" stroke-linejoin="round" stroke-linecap="butt"/>
<circle cx="453.57" cy="88.40" r="1.95" fill="#1b2657" stroke="#fff" stroke-width="1.15"/>
<circle cx="471.16" cy="51.10" r="1.95" fill="#1b2657" stroke="#fff" stroke-width="1.15"/>
<circle cx="488.75" cy="39.70" r="1.95" fill="#1b2657" stroke="#fff" stroke-width="1.15"/>
<circle cx="506.34" cy="32.20" r="1.95" fill="#1b2657" stroke="#fff" stroke-width="1.15"/>
<circle cx="523.93" cy="29.00" r="1.95" fill="#1b2657" stroke="#fff" stroke-width="1.15"/>
<circle cx="541.52" cy="28.30" r="1.95" fill="#1b2657" stroke="#fff" stroke-width="1.15"/>
<circle cx="559.11" cy="27.50" r="1.95" fill="#1b2657" stroke="#fff" stroke-width="1.15"/>
<rect x="448.29" y="19.50" width="116.10" height="109.45" fill="none" stroke="#1c1c1c" stroke-width="1.15"/>
<line x1="446.39" y1="128.95" x2="448.29" y2="128.95" stroke="#1c1c1c" stroke-width="0.9"/>
<line x1="446.39" y1="97.45" x2="448.29" y2="97.45" stroke="#1c1c1c" stroke-width="0.9"/>
<line x1="446.39" y1="65.95" x2="448.29" y2="65.95" stroke="#1c1c1c" stroke-width="0.9"/>
<line x1="446.39" y1="34.45" x2="448.29" y2="34.45" stroke="#1c1c1c" stroke-width="0.9"/>
<line x1="453.57" y1="128.95" x2="453.57" y2="130.85" stroke="#1c1c1c" stroke-width="0.9"/>
<line x1="471.16" y1="128.95" x2="471.16" y2="130.85" stroke="#1c1c1c" stroke-width="0.9"/>
<line x1="488.75" y1="128.95" x2="488.75" y2="130.85" stroke="#1c1c1c" stroke-width="0.9"/>
<line x1="506.34" y1="128.95" x2="506.34" y2="130.85" stroke="#1c1c1c" stroke-width="0.9"/>
<line x1="523.93" y1="128.95" x2="523.93" y2="130.85" stroke="#1c1c1c" stroke-width="0.9"/>
<line x1="541.52" y1="128.95" x2="541.52" y2="130.85" stroke="#1c1c1c" stroke-width="0.9"/>
<line x1="559.11" y1="128.95" x2="559.11" y2="130.85" stroke="#1c1c1c" stroke-width="0.9"/>
<text x="506.34" y="16.90" font-size="10.2" text-anchor="middle" fill="#1c1c1c" textLength="46.70" lengthAdjust="spacingAndGlyphs">H3K4me1</text>
<text x="0" y="0" font-size="9.4" text-anchor="middle" dominant-baseline="central" fill="#1c1c1c" textLength="11.00" lengthAdjust="spacingAndGlyphs" transform="translate(454.37,137.66) rotate(45)">1%</text>
<text x="0" y="0" font-size="9.4" text-anchor="middle" dominant-baseline="central" fill="#1c1c1c" textLength="11.00" lengthAdjust="spacingAndGlyphs" transform="translate(471.96,137.66) rotate(45)">5%</text>
<text x="0" y="0" font-size="9.4" text-anchor="middle" dominant-baseline="central" fill="#1c1c1c" textLength="16.50" lengthAdjust="spacingAndGlyphs" transform="translate(489.55,139.61) rotate(45)">10%</text>
<text x="0" y="0" font-size="9.4" text-anchor="middle" dominant-baseline="central" fill="#1c1c1c" textLength="16.50" lengthAdjust="spacingAndGlyphs" transform="translate(507.14,139.61) rotate(45)">20%</text>
<text x="0" y="0" font-size="9.4" text-anchor="middle" dominant-baseline="central" fill="#1c1c1c" textLength="16.50" lengthAdjust="spacingAndGlyphs" transform="translate(524.73,139.61) rotate(45)">50%</text>
<text x="0" y="0" font-size="9.4" text-anchor="middle" dominant-baseline="central" fill="#1c1c1c" textLength="16.50" lengthAdjust="spacingAndGlyphs" transform="translate(542.32,139.61) rotate(45)">75%</text>
<text x="0" y="0" font-size="9.4" text-anchor="middle" dominant-baseline="central" fill="#1c1c1c" textLength="22.00" lengthAdjust="spacingAndGlyphs" transform="translate(559.91,141.55) rotate(45)">100%</text>
<polyline points="593.00,110.50 610.59,105.50 628.18,92.50 645.77,86.80 663.36,79.00 680.95,78.00 698.54,78.00" fill="none" stroke="#e8812e" stroke-width="1.8" stroke-linejoin="round" stroke-linecap="butt"/>
<circle cx="593.00" cy="110.50" r="1.95" fill="#e8812e" stroke="#fff" stroke-width="1.15"/>
<circle cx="610.59" cy="105.50" r="1.95" fill="#e8812e" stroke="#fff" stroke-width="1.15"/>
<circle cx="628.18" cy="92.50" r="1.95" fill="#e8812e" stroke="#fff" stroke-width="1.15"/>
<circle cx="645.77" cy="86.80" r="1.95" fill="#e8812e" stroke="#fff" stroke-width="1.15"/>
<circle cx="663.36" cy="79.00" r="1.95" fill="#e8812e" stroke="#fff" stroke-width="1.15"/>
<circle cx="680.95" cy="78.00" r="1.95" fill="#e8812e" stroke="#fff" stroke-width="1.15"/>
<circle cx="698.54" cy="78.00" r="1.95" fill="#e8812e" stroke="#fff" stroke-width="1.15"/>
<polyline points="593.00,110.00 610.59,98.60 628.18,91.90 645.77,85.40 663.36,77.30 680.95,76.60 698.54,77.30" fill="none" stroke="#6b9ea6" stroke-width="1.8" stroke-linejoin="round" stroke-linecap="butt"/>
<circle cx="593.00" cy="110.00" r="1.95" fill="#6b9ea6" stroke="#fff" stroke-width="1.15"/>
<circle cx="610.59" cy="98.60" r="1.95" fill="#6b9ea6" stroke="#fff" stroke-width="1.15"/>
<circle cx="628.18" cy="91.90" r="1.95" fill="#6b9ea6" stroke="#fff" stroke-width="1.15"/>
<circle cx="645.77" cy="85.40" r="1.95" fill="#6b9ea6" stroke="#fff" stroke-width="1.15"/>
<circle cx="663.36" cy="77.30" r="1.95" fill="#6b9ea6" stroke="#fff" stroke-width="1.15"/>
<circle cx="680.95" cy="76.60" r="1.95" fill="#6b9ea6" stroke="#fff" stroke-width="1.15"/>
<circle cx="698.54" cy="77.30" r="1.95" fill="#6b9ea6" stroke="#fff" stroke-width="1.15"/>
<polyline points="593.00,110.50 610.59,106.00 628.18,104.50 645.77,101.00 663.36,101.50 680.95,101.50 698.54,101.80" fill="none" stroke="#d074ad" stroke-width="1.8" stroke-linejoin="round" stroke-linecap="butt"/>
<circle cx="593.00" cy="110.50" r="1.95" fill="#d074ad" stroke="#fff" stroke-width="1.15"/>
<circle cx="610.59" cy="106.00" r="1.95" fill="#d074ad" stroke="#fff" stroke-width="1.15"/>
<circle cx="628.18" cy="104.50" r="1.95" fill="#d074ad" stroke="#fff" stroke-width="1.15"/>
<circle cx="645.77" cy="101.00" r="1.95" fill="#d074ad" stroke="#fff" stroke-width="1.15"/>
<circle cx="663.36" cy="101.50" r="1.95" fill="#d074ad" stroke="#fff" stroke-width="1.15"/>
<circle cx="680.95" cy="101.50" r="1.95" fill="#d074ad" stroke="#fff" stroke-width="1.15"/>
<circle cx="698.54" cy="101.80" r="1.95" fill="#d074ad" stroke="#fff" stroke-width="1.15"/>
<polyline points="593.00,110.50 610.59,104.90 628.18,100.70 645.77,95.90 663.36,89.20 680.95,88.80 698.54,89.20" fill="none" stroke="#135f68" stroke-width="1.8" stroke-linejoin="round" stroke-linecap="butt"/>
<circle cx="593.00" cy="110.50" r="1.95" fill="#135f68" stroke="#fff" stroke-width="1.15"/>
<circle cx="610.59" cy="104.90" r="1.95" fill="#135f68" stroke="#fff" stroke-width="1.15"/>
<circle cx="628.18" cy="100.70" r="1.95" fill="#135f68" stroke="#fff" stroke-width="1.15"/>
<circle cx="645.77" cy="95.90" r="1.95" fill="#135f68" stroke="#fff" stroke-width="1.15"/>
<circle cx="663.36" cy="89.20" r="1.95" fill="#135f68" stroke="#fff" stroke-width="1.15"/>
<circle cx="680.95" cy="88.80" r="1.95" fill="#135f68" stroke="#fff" stroke-width="1.15"/>
<circle cx="698.54" cy="89.20" r="1.95" fill="#135f68" stroke="#fff" stroke-width="1.15"/>
<polyline points="593.00,111.00 610.59,106.60 628.18,103.70 645.77,100.30 663.36,98.10 680.95,98.60 698.54,98.10" fill="none" stroke="#d4473c" stroke-width="1.8" stroke-linejoin="round" stroke-linecap="butt"/>
<circle cx="593.00" cy="111.00" r="1.95" fill="#d4473c" stroke="#fff" stroke-width="1.15"/>
<circle cx="610.59" cy="106.60" r="1.95" fill="#d4473c" stroke="#fff" stroke-width="1.15"/>
<circle cx="628.18" cy="103.70" r="1.95" fill="#d4473c" stroke="#fff" stroke-width="1.15"/>
<circle cx="645.77" cy="100.30" r="1.95" fill="#d4473c" stroke="#fff" stroke-width="1.15"/>
<circle cx="663.36" cy="98.10" r="1.95" fill="#d4473c" stroke="#fff" stroke-width="1.15"/>
<circle cx="680.95" cy="98.60" r="1.95" fill="#d4473c" stroke="#fff" stroke-width="1.15"/>
<circle cx="698.54" cy="98.10" r="1.95" fill="#d4473c" stroke="#fff" stroke-width="1.15"/>
<polyline points="593.00,113.40 610.59,108.30 628.18,105.50 645.77,103.50 663.36,101.00 680.95,100.50 698.54,100.50" fill="none" stroke="#75985a" stroke-width="1.8" stroke-linejoin="round" stroke-linecap="butt"/>
<circle cx="593.00" cy="113.40" r="1.95" fill="#75985a" stroke="#fff" stroke-width="1.15"/>
<circle cx="610.59" cy="108.30" r="1.95" fill="#75985a" stroke="#fff" stroke-width="1.15"/>
<circle cx="628.18" cy="105.50" r="1.95" fill="#75985a" stroke="#fff" stroke-width="1.15"/>
<circle cx="645.77" cy="103.50" r="1.95" fill="#75985a" stroke="#fff" stroke-width="1.15"/>
<circle cx="663.36" cy="101.00" r="1.95" fill="#75985a" stroke="#fff" stroke-width="1.15"/>
<circle cx="680.95" cy="100.50" r="1.95" fill="#75985a" stroke="#fff" stroke-width="1.15"/>
<circle cx="698.54" cy="100.50" r="1.95" fill="#75985a" stroke="#fff" stroke-width="1.15"/>
<polyline points="593.00,112.00 610.59,110.50 628.18,107.80 645.77,106.10 663.36,107.10 680.95,107.10 698.54,107.10" fill="none" stroke="#eb7e6f" stroke-width="1.8" stroke-linejoin="round" stroke-linecap="butt"/>
<circle cx="593.00" cy="112.00" r="1.95" fill="#eb7e6f" stroke="#fff" stroke-width="1.15"/>
<circle cx="610.59" cy="110.50" r="1.95" fill="#eb7e6f" stroke="#fff" stroke-width="1.15"/>
<circle cx="628.18" cy="107.80" r="1.95" fill="#eb7e6f" stroke="#fff" stroke-width="1.15"/>
<circle cx="645.77" cy="106.10" r="1.95" fill="#eb7e6f" stroke="#fff" stroke-width="1.15"/>
<circle cx="663.36" cy="107.10" r="1.95" fill="#eb7e6f" stroke="#fff" stroke-width="1.15"/>
<circle cx="680.95" cy="107.10" r="1.95" fill="#eb7e6f" stroke="#fff" stroke-width="1.15"/>
<circle cx="698.54" cy="107.10" r="1.95" fill="#eb7e6f" stroke="#fff" stroke-width="1.15"/>
<polyline points="593.00,111.00 610.59,106.60 628.18,104.90 645.77,103.70 663.36,100.70 680.95,99.80 698.54,99.80" fill="none" stroke="#f4b246" stroke-width="1.8" stroke-linejoin="round" stroke-linecap="butt"/>
<circle cx="593.00" cy="111.00" r="1.95" fill="#f4b246" stroke="#fff" stroke-width="1.15"/>
<circle cx="610.59" cy="106.60" r="1.95" fill="#f4b246" stroke="#fff" stroke-width="1.15"/>
<circle cx="628.18" cy="104.90" r="1.95" fill="#f4b246" stroke="#fff" stroke-width="1.15"/>
<circle cx="645.77" cy="103.70" r="1.95" fill="#f4b246" stroke="#fff" stroke-width="1.15"/>
<circle cx="663.36" cy="100.70" r="1.95" fill="#f4b246" stroke="#fff" stroke-width="1.15"/>
<circle cx="680.95" cy="99.80" r="1.95" fill="#f4b246" stroke="#fff" stroke-width="1.15"/>
<circle cx="698.54" cy="99.80" r="1.95" fill="#f4b246" stroke="#fff" stroke-width="1.15"/>
<polyline points="593.00,109.50 610.59,103.20 628.18,93.10 645.77,89.20 663.36,80.30 680.95,79.00 698.54,78.00" fill="none" stroke="#1b2657" stroke-width="1.8" stroke-linejoin="round" stroke-linecap="butt"/>
<circle cx="593.00" cy="109.50" r="1.95" fill="#1b2657" stroke="#fff" stroke-width="1.15"/>
<circle cx="610.59" cy="103.20" r="1.95" fill="#1b2657" stroke="#fff" stroke-width="1.15"/>
<circle cx="628.18" cy="93.10" r="1.95" fill="#1b2657" stroke="#fff" stroke-width="1.15"/>
<circle cx="645.77" cy="89.20" r="1.95" fill="#1b2657" stroke="#fff" stroke-width="1.15"/>
<circle cx="663.36" cy="80.30" r="1.95" fill="#1b2657" stroke="#fff" stroke-width="1.15"/>
<circle cx="680.95" cy="79.00" r="1.95" fill="#1b2657" stroke="#fff" stroke-width="1.15"/>
<circle cx="698.54" cy="78.00" r="1.95" fill="#1b2657" stroke="#fff" stroke-width="1.15"/>
<rect x="587.72" y="19.50" width="116.10" height="109.45" fill="none" stroke="#1c1c1c" stroke-width="1.15"/>
<line x1="585.82" y1="128.95" x2="587.72" y2="128.95" stroke="#1c1c1c" stroke-width="0.9"/>
<line x1="585.82" y1="97.45" x2="587.72" y2="97.45" stroke="#1c1c1c" stroke-width="0.9"/>
<line x1="585.82" y1="65.95" x2="587.72" y2="65.95" stroke="#1c1c1c" stroke-width="0.9"/>
<line x1="585.82" y1="34.45" x2="587.72" y2="34.45" stroke="#1c1c1c" stroke-width="0.9"/>
<line x1="593.00" y1="128.95" x2="593.00" y2="130.85" stroke="#1c1c1c" stroke-width="0.9"/>
<line x1="610.59" y1="128.95" x2="610.59" y2="130.85" stroke="#1c1c1c" stroke-width="0.9"/>
<line x1="628.18" y1="128.95" x2="628.18" y2="130.85" stroke="#1c1c1c" stroke-width="0.9"/>
<line x1="645.77" y1="128.95" x2="645.77" y2="130.85" stroke="#1c1c1c" stroke-width="0.9"/>
<line x1="663.36" y1="128.95" x2="663.36" y2="130.85" stroke="#1c1c1c" stroke-width="0.9"/>
<line x1="680.95" y1="128.95" x2="680.95" y2="130.85" stroke="#1c1c1c" stroke-width="0.9"/>
<line x1="698.54" y1="128.95" x2="698.54" y2="130.85" stroke="#1c1c1c" stroke-width="0.9"/>
<text x="645.77" y="16.90" font-size="10.2" text-anchor="middle" fill="#1c1c1c" textLength="47.60" lengthAdjust="spacingAndGlyphs">H3K4me3</text>
<text x="0" y="0" font-size="9.4" text-anchor="middle" dominant-baseline="central" fill="#1c1c1c" textLength="11.00" lengthAdjust="spacingAndGlyphs" transform="translate(593.80,137.66) rotate(45)">1%</text>
<text x="0" y="0" font-size="9.4" text-anchor="middle" dominant-baseline="central" fill="#1c1c1c" textLength="11.00" lengthAdjust="spacingAndGlyphs" transform="translate(611.39,137.66) rotate(45)">5%</text>
<text x="0" y="0" font-size="9.4" text-anchor="middle" dominant-baseline="central" fill="#1c1c1c" textLength="16.50" lengthAdjust="spacingAndGlyphs" transform="translate(628.98,139.61) rotate(45)">10%</text>
<text x="0" y="0" font-size="9.4" text-anchor="middle" dominant-baseline="central" fill="#1c1c1c" textLength="16.50" lengthAdjust="spacingAndGlyphs" transform="translate(646.57,139.61) rotate(45)">20%</text>
<text x="0" y="0" font-size="9.4" text-anchor="middle" dominant-baseline="central" fill="#1c1c1c" textLength="16.50" lengthAdjust="spacingAndGlyphs" transform="translate(664.16,139.61) rotate(45)">50%</text>
<text x="0" y="0" font-size="9.4" text-anchor="middle" dominant-baseline="central" fill="#1c1c1c" textLength="16.50" lengthAdjust="spacingAndGlyphs" transform="translate(681.75,139.61) rotate(45)">75%</text>
<text x="0" y="0" font-size="9.4" text-anchor="middle" dominant-baseline="central" fill="#1c1c1c" textLength="22.00" lengthAdjust="spacingAndGlyphs" transform="translate(699.34,141.55) rotate(45)">100%</text>
<text x="0" y="0" font-size="10.1" text-anchor="middle" fill="#1c1c1c" textLength="96.5" lengthAdjust="spacingAndGlyphs" transform="translate(10.6,74.0) rotate(-90)">Best neighbor score</text>
<text x="261.00" y="162.50" font-size="10.1" text-anchor="start" fill="#1c1c1c" textLength="213.00" lengthAdjust="spacingAndGlyphs">Percentage of features kept (HVG selection)</text>
<text x="-0.80" y="15.60" font-size="23.5" text-anchor="start" fill="#1c1c1c" style="stroke:none">A</text>
<text x="-1.20" y="221.90" font-size="23.8" text-anchor="start" fill="#1c1c1c" textLength="13.40" lengthAdjust="spacingAndGlyphs" font-weight="bold" style="stroke:none">B</text>
<rect x="8.5" y="171.4" width="691.1" height="27.0" rx="1" ry="1" fill="#fff" stroke="#e0e0e0" stroke-width="1.0"/>
<text x="336.20" y="181.60" font-size="9.9" text-anchor="start" fill="#1c1c1c" textLength="36.40" lengthAdjust="spacingAndGlyphs">Method</text>
<line x1="11.00" y1="190.8" x2="28.80" y2="190.8" stroke="#e8812e" stroke-width="1.8"/>
<circle cx="19.90" cy="190.8" r="1.9" fill="#e8812e" stroke="#fff" stroke-width="1.3"/>
<text x="34.70" y="194.00" font-size="9.8" text-anchor="start" fill="#1c1c1c" textLength="27.30" lengthAdjust="spacingAndGlyphs">Signac</text>
<line x1="76.30" y1="190.8" x2="94.10" y2="190.8" stroke="#6b9ea6" stroke-width="1.8"/>
<circle cx="85.20" cy="190.8" r="1.9" fill="#6b9ea6" stroke="#fff" stroke-width="1.3"/>
<text x="100.30" y="194.00" font-size="9.8" text-anchor="start" fill="#1c1c1c" textLength="68.30" lengthAdjust="spacingAndGlyphs">ChromSCape_LSI</text>
<line x1="183.20" y1="190.8" x2="201.00" y2="190.8" stroke="#d074ad" stroke-width="1.8"/>
<circle cx="192.10" cy="190.8" r="1.9" fill="#d074ad" stroke="#fff" stroke-width="1.3"/>
<text x="207.50" y="194.00" font-size="9.8" text-anchor="start" fill="#1c1c1c" textLength="27.90" lengthAdjust="spacingAndGlyphs">PeakVI</text>
<line x1="249.20" y1="190.8" x2="267.00" y2="190.8" stroke="#135f68" stroke-width="1.8"/>
<circle cx="258.10" cy="190.8" r="1.9" fill="#135f68" stroke="#fff" stroke-width="1.3"/>
<text x="272.90" y="194.00" font-size="9.8" text-anchor="start" fill="#1c1c1c" textLength="41.30" lengthAdjust="spacingAndGlyphs">SnapATAC</text>
<line x1="328.50" y1="190.8" x2="346.30" y2="190.8" stroke="#d4473c" stroke-width="1.8"/>
<circle cx="337.40" cy="190.8" r="1.9" fill="#d4473c" stroke="#fff" stroke-width="1.3"/>
<text x="351.70" y="194.00" font-size="9.8" text-anchor="start" fill="#1c1c1c" textLength="31.80" lengthAdjust="spacingAndGlyphs">cisTopic</text>
<line x1="397.80" y1="190.8" x2="415.60" y2="190.8" stroke="#75985a" stroke-width="1.8"/>
<circle cx="406.70" cy="190.8" r="1.9" fill="#75985a" stroke="#fff" stroke-width="1.3"/>
<text x="421.50" y="194.00" font-size="9.8" text-anchor="start" fill="#1c1c1c" textLength="26.50" lengthAdjust="spacingAndGlyphs">SCALE</text>
<line x1="462.90" y1="190.8" x2="480.70" y2="190.8" stroke="#eb7e6f" stroke-width="1.8"/>
<circle cx="471.80" cy="190.8" r="1.9" fill="#eb7e6f" stroke="#fff" stroke-width="1.3"/>
<text x="486.10" y="194.00" font-size="9.8" text-anchor="start" fill="#1c1c1c" textLength="72.70" lengthAdjust="spacingAndGlyphs">ChromSCape_PCA</text>
<line x1="573.40" y1="190.8" x2="591.20" y2="190.8" stroke="#f4b246" stroke-width="1.8"/>
<circle cx="582.30" cy="190.8" r="1.9" fill="#f4b246" stroke="#fff" stroke-width="1.3"/>
<text x="597.50" y="194.00" font-size="9.8" text-anchor="start" fill="#1c1c1c" textLength="17.90" lengthAdjust="spacingAndGlyphs">NMF</text>
<line x1="629.70" y1="190.8" x2="647.50" y2="190.8" stroke="#1b2657" stroke-width="1.8"/>
<circle cx="638.60" cy="190.8" r="1.9" fill="#1b2657" stroke="#fff" stroke-width="1.3"/>
<text x="653.40" y="194.00" font-size="9.8" text-anchor="start" fill="#1c1c1c" textLength="43.80" lengthAdjust="spacingAndGlyphs">TFIDF-NMF</text>
<polyline points="121.50,320.10 134.50,320.10 142.11,320.00 164.70,319.10 185.31,322.70 194.90,330.10" fill="none" stroke="#86d4a9" stroke-width="1.55" stroke-linejoin="round" stroke-linecap="butt"/>
<circle cx="121.50" cy="320.10" r="2.1" fill="#86d4a9" stroke="#fff" stroke-width="1.05"/>
<circle cx="134.50" cy="320.10" r="2.1" fill="#86d4a9" stroke="#fff" stroke-width="1.05"/>
<circle cx="142.11" cy="320.00" r="2.1" fill="#86d4a9" stroke="#fff" stroke-width="1.05"/>
<circle cx="164.70" cy="319.10" r="2.1" fill="#86d4a9" stroke="#fff" stroke-width="1.05"/>
<circle cx="185.31" cy="322.70" r="2.1" fill="#86d4a9" stroke="#fff" stroke-width="1.05"/>
<circle cx="194.90" cy="330.10" r="2.1" fill="#86d4a9" stroke="#fff" stroke-width="1.05"/>
<polyline points="108.50,289.00 121.50,299.30 134.50,306.20 151.70,306.90 164.70,305.00 177.70,304.30 185.31,307.60 194.90,322.00" fill="none" stroke="#47bca9" stroke-width="1.55" stroke-linejoin="round" stroke-linecap="butt"/>
<circle cx="108.50" cy="289.00" r="2.1" fill="#47bca9" stroke="#fff" stroke-width="1.05"/>
<circle cx="121.50" cy="299.30" r="2.1" fill="#47bca9" stroke="#fff" stroke-width="1.05"/>
<circle cx="134.50" cy="306.20" r="2.1" fill="#47bca9" stroke="#fff" stroke-width="1.05"/>
<circle cx="151.70" cy="306.90" r="2.1" fill="#47bca9" stroke="#fff" stroke-width="1.05"/>
<circle cx="164.70" cy="305.00" r="2.1" fill="#47bca9" stroke="#fff" stroke-width="1.05"/>
<circle cx="177.70" cy="304.30" r="2.1" fill="#47bca9" stroke="#fff" stroke-width="1.05"/>
<circle cx="185.31" cy="307.60" r="2.1" fill="#47bca9" stroke="#fff" stroke-width="1.05"/>
<circle cx="194.90" cy="322.00" r="2.1" fill="#47bca9" stroke="#fff" stroke-width="1.05"/>
<polyline points="108.50,269.30 121.50,279.20 134.50,292.50 142.11,297.20 151.70,299.00 164.70,298.40 177.70,295.70 185.31,297.70 194.90,312.20 207.90,328.00" fill="none" stroke="#3596a8" stroke-width="1.55" stroke-linejoin="round" stroke-linecap="butt"/>
<circle cx="108.50" cy="269.30" r="2.1" fill="#3596a8" stroke="#fff" stroke-width="1.05"/>
<circle cx="121.50" cy="279.20" r="2.1" fill="#3596a8" stroke="#fff" stroke-width="1.05"/>
<circle cx="134.50" cy="292.50" r="2.1" fill="#3596a8" stroke="#fff" stroke-width="1.05"/>
<circle cx="142.11" cy="297.20" r="2.1" fill="#3596a8" stroke="#fff" stroke-width="1.05"/>
<circle cx="151.70" cy="299.00" r="2.1" fill="#3596a8" stroke="#fff" stroke-width="1.05"/>
<circle cx="164.70" cy="298.40" r="2.1" fill="#3596a8" stroke="#fff" stroke-width="1.05"/>
<circle cx="177.70" cy="295.70" r="2.1" fill="#3596a8" stroke="#fff" stroke-width="1.05"/>
<circle cx="185.31" cy="297.70" r="2.1" fill="#3596a8" stroke="#fff" stroke-width="1.05"/>
<circle cx="194.90" cy="312.20" r="2.1" fill="#3596a8" stroke="#fff" stroke-width="1.05"/>
<circle cx="207.90" cy="328.00" r="2.1" fill="#3596a8" stroke="#fff" stroke-width="1.05"/>
<polyline points="108.50,253.30 121.50,258.00 134.50,276.00 142.11,284.50 151.70,289.40 164.70,291.00 185.31,288.60 194.90,299.20 207.90,320.20" fill="none" stroke="#3577a9" stroke-width="1.55" stroke-linejoin="round" stroke-linecap="butt"/>
<circle cx="108.50" cy="253.30" r="2.1" fill="#3577a9" stroke="#fff" stroke-width="1.05"/>
<circle cx="121.50" cy="258.00" r="2.1" fill="#3577a9" stroke="#fff" stroke-width="1.05"/>
<circle cx="134.50" cy="276.00" r="2.1" fill="#3577a9" stroke="#fff" stroke-width="1.05"/>
<circle cx="142.11" cy="284.50" r="2.1" fill="#3577a9" stroke="#fff" stroke-width="1.05"/>
<circle cx="151.70" cy="289.40" r="2.1" fill="#3577a9" stroke="#fff" stroke-width="1.05"/>
<circle cx="164.70" cy="291.00" r="2.1" fill="#3577a9" stroke="#fff" stroke-width="1.05"/>
<circle cx="185.31" cy="288.60" r="2.1" fill="#3577a9" stroke="#fff" stroke-width="1.05"/>
<circle cx="194.90" cy="299.20" r="2.1" fill="#3577a9" stroke="#fff" stroke-width="1.05"/>
<circle cx="207.90" cy="320.20" r="2.1" fill="#3577a9" stroke="#fff" stroke-width="1.05"/>
<polyline points="108.50,245.60 121.50,239.70 134.50,250.50 142.11,263.50 151.70,275.50 164.70,280.80 177.70,280.10 185.31,278.70 194.90,284.00 207.90,302.00" fill="none" stroke="#3e53a0" stroke-width="1.55" stroke-linejoin="round" stroke-linecap="butt"/>
<circle cx="108.50" cy="245.60" r="2.1" fill="#3e53a0" stroke="#fff" stroke-width="1.05"/>
<circle cx="121.50" cy="239.70" r="2.1" fill="#3e53a0" stroke="#fff" stroke-width="1.05"/>
<circle cx="134.50" cy="250.50" r="2.1" fill="#3e53a0" stroke="#fff" stroke-width="1.05"/>
<circle cx="142.11" cy="263.50" r="2.1" fill="#3e53a0" stroke="#fff" stroke-width="1.05"/>
<circle cx="151.70" cy="275.50" r="2.1" fill="#3e53a0" stroke="#fff" stroke-width="1.05"/>
<circle cx="164.70" cy="280.80" r="2.1" fill="#3e53a0" stroke="#fff" stroke-width="1.05"/>
<circle cx="177.70" cy="280.10" r="2.1" fill="#3e53a0" stroke="#fff" stroke-width="1.05"/>
<circle cx="185.31" cy="278.70" r="2.1" fill="#3e53a0" stroke="#fff" stroke-width="1.05"/>
<circle cx="194.90" cy="284.00" r="2.1" fill="#3e53a0" stroke="#fff" stroke-width="1.05"/>
<circle cx="207.90" cy="302.00" r="2.1" fill="#3e53a0" stroke="#fff" stroke-width="1.05"/>
<polyline points="108.50,244.30 121.50,238.60 134.50,242.30 142.11,253.60 151.70,268.40 164.70,276.00 177.70,277.20 185.31,276.00 194.90,278.40 207.90,293.30" fill="none" stroke="#3b2d6b" stroke-width="1.55" stroke-linejoin="round" stroke-linecap="butt"/>
<circle cx="108.50" cy="244.30" r="2.1" fill="#3b2d6b" stroke="#fff" stroke-width="1.05"/>
<circle cx="121.50" cy="238.60" r="2.1" fill="#3b2d6b" stroke="#fff" stroke-width="1.05"/>
<circle cx="134.50" cy="242.30" r="2.1" fill="#3b2d6b" stroke="#fff" stroke-width="1.05"/>
<circle cx="142.11" cy="253.60" r="2.1" fill="#3b2d6b" stroke="#fff" stroke-width="1.05"/>
<circle cx="151.70" cy="268.40" r="2.1" fill="#3b2d6b" stroke="#fff" stroke-width="1.05"/>
<circle cx="164.70" cy="276.00" r="2.1" fill="#3b2d6b" stroke="#fff" stroke-width="1.05"/>
<circle cx="177.70" cy="277.20" r="2.1" fill="#3b2d6b" stroke="#fff" stroke-width="1.05"/>
<circle cx="185.31" cy="276.00" r="2.1" fill="#3b2d6b" stroke="#fff" stroke-width="1.05"/>
<circle cx="194.90" cy="278.40" r="2.1" fill="#3b2d6b" stroke="#fff" stroke-width="1.05"/>
<circle cx="207.90" cy="293.30" r="2.1" fill="#3b2d6b" stroke="#fff" stroke-width="1.05"/>
<polyline points="108.50,247.50 121.50,238.20 134.50,239.00 142.11,246.20 151.70,260.70 164.70,274.00 177.70,276.50 185.31,274.40 194.90,275.70 207.90,286.20" fill="none" stroke="#1e1230" stroke-width="1.55" stroke-linejoin="round" stroke-linecap="butt"/>
<circle cx="108.50" cy="247.50" r="2.1" fill="#1e1230" stroke="#fff" stroke-width="1.05"/>
<circle cx="121.50" cy="238.20" r="2.1" fill="#1e1230" stroke="#fff" stroke-width="1.05"/>
<circle cx="134.50" cy="239.00" r="2.1" fill="#1e1230" stroke="#fff" stroke-width="1.05"/>
<circle cx="142.11" cy="246.20" r="2.1" fill="#1e1230" stroke="#fff" stroke-width="1.05"/>
<circle cx="151.70" cy="260.70" r="2.1" fill="#1e1230" stroke="#fff" stroke-width="1.05"/>
<circle cx="164.70" cy="274.00" r="2.1" fill="#1e1230" stroke="#fff" stroke-width="1.05"/>
<circle cx="177.70" cy="276.50" r="2.1" fill="#1e1230" stroke="#fff" stroke-width="1.05"/>
<circle cx="185.31" cy="274.40" r="2.1" fill="#1e1230" stroke="#fff" stroke-width="1.05"/>
<circle cx="194.90" cy="275.70" r="2.1" fill="#1e1230" stroke="#fff" stroke-width="1.05"/>
<circle cx="207.90" cy="286.20" r="2.1" fill="#1e1230" stroke="#fff" stroke-width="1.05"/>
<circle cx="99.60" cy="306.90" r="2.1" fill="#86d4a9" stroke="#fff" stroke-width="1.05"/>
<circle cx="99.60" cy="286.00" r="2.1" fill="#47bca9" stroke="#fff" stroke-width="1.05"/>
<circle cx="99.60" cy="285.00" r="2.1" fill="#3596a8" stroke="#fff" stroke-width="1.05"/>
<circle cx="99.60" cy="283.40" r="2.1" fill="#3577a9" stroke="#fff" stroke-width="1.05"/>
<circle cx="99.60" cy="282.00" r="2.1" fill="#3e53a0" stroke="#fff" stroke-width="1.05"/>
<circle cx="99.60" cy="280.50" r="2.1" fill="#3b2d6b" stroke="#fff" stroke-width="1.05"/>
<circle cx="99.60" cy="278.70" r="2.1" fill="#1e1230" stroke="#fff" stroke-width="1.05"/>
<rect x="94.00" y="235.50" width="119.80" height="111.00" fill="none" stroke="#1c1c1c" stroke-width="1.15"/>
<line x1="92.10" y1="346.50" x2="94.00" y2="346.50" stroke="#1c1c1c" stroke-width="0.9"/>
<text x="91.00" y="349.90" font-size="9.5" text-anchor="end" fill="#1c1c1c" textLength="12.60" lengthAdjust="spacingAndGlyphs">0.0</text>
<line x1="92.10" y1="314.50" x2="94.00" y2="314.50" stroke="#1c1c1c" stroke-width="0.9"/>
<text x="91.00" y="317.90" font-size="9.5" text-anchor="end" fill="#1c1c1c" textLength="12.60" lengthAdjust="spacingAndGlyphs">0.1</text>
<line x1="92.10" y1="282.50" x2="94.00" y2="282.50" stroke="#1c1c1c" stroke-width="0.9"/>
<text x="91.00" y="285.90" font-size="9.5" text-anchor="end" fill="#1c1c1c" textLength="12.60" lengthAdjust="spacingAndGlyphs">0.2</text>
<line x1="92.10" y1="250.50" x2="94.00" y2="250.50" stroke="#1c1c1c" stroke-width="0.9"/>
<text x="91.00" y="253.90" font-size="9.5" text-anchor="end" fill="#1c1c1c" textLength="12.60" lengthAdjust="spacingAndGlyphs">0.3</text>
<line x1="121.50" y1="346.50" x2="121.50" y2="348.40" stroke="#1c1c1c" stroke-width="0.9"/>
<line x1="164.70" y1="346.50" x2="164.70" y2="348.40" stroke="#1c1c1c" stroke-width="0.9"/>
<line x1="207.90" y1="346.50" x2="207.90" y2="348.40" stroke="#1c1c1c" stroke-width="0.9"/>
<line x1="98.91" y1="346.50" x2="98.91" y2="348.10" stroke="#1c1c1c" stroke-width="0.95"/>
<line x1="104.31" y1="346.50" x2="104.31" y2="348.10" stroke="#1c1c1c" stroke-width="0.95"/>
<line x1="108.50" y1="346.50" x2="108.50" y2="348.10" stroke="#1c1c1c" stroke-width="0.95"/>
<line x1="111.92" y1="346.50" x2="111.92" y2="348.10" stroke="#1c1c1c" stroke-width="0.95"/>
<line x1="114.81" y1="346.50" x2="114.81" y2="348.10" stroke="#1c1c1c" stroke-width="0.95"/>
<line x1="117.31" y1="346.50" x2="117.31" y2="348.10" stroke="#1c1c1c" stroke-width="0.95"/>
<line x1="119.52" y1="346.50" x2="119.52" y2="348.10" stroke="#1c1c1c" stroke-width="0.95"/>
<line x1="134.50" y1="346.50" x2="134.50" y2="348.10" stroke="#1c1c1c" stroke-width="0.95"/>
<line x1="142.11" y1="346.50" x2="142.11" y2="348.10" stroke="#1c1c1c" stroke-width="0.95"/>
<line x1="147.51" y1="346.50" x2="147.51" y2="348.10" stroke="#1c1c1c" stroke-width="0.95"/>
<line x1="151.70" y1="346.50" x2="151.70" y2="348.10" stroke="#1c1c1c" stroke-width="0.95"/>
<line x1="155.12" y1="346.50" x2="155.12" y2="348.10" stroke="#1c1c1c" stroke-width="0.95"/>
<line x1="158.01" y1="346.50" x2="158.01" y2="348.10" stroke="#1c1c1c" stroke-width="0.95"/>
<line x1="160.51" y1="346.50" x2="160.51" y2="348.10" stroke="#1c1c1c" stroke-width="0.95"/>
<line x1="162.72" y1="346.50" x2="162.72" y2="348.10" stroke="#1c1c1c" stroke-width="0.95"/>
<line x1="177.70" y1="346.50" x2="177.70" y2="348.10" stroke="#1c1c1c" stroke-width="0.95"/>
<line x1="185.31" y1="346.50" x2="185.31" y2="348.10" stroke="#1c1c1c" stroke-width="0.95"/>
<line x1="190.71" y1="346.50" x2="190.71" y2="348.10" stroke="#1c1c1c" stroke-width="0.95"/>
<line x1="194.90" y1="346.50" x2="194.90" y2="348.10" stroke="#1c1c1c" stroke-width="0.95"/>
<line x1="198.32" y1="346.50" x2="198.32" y2="348.10" stroke="#1c1c1c" stroke-width="0.95"/>
<line x1="201.21" y1="346.50" x2="201.21" y2="348.10" stroke="#1c1c1c" stroke-width="0.95"/>
<line x1="203.71" y1="346.50" x2="203.71" y2="348.10" stroke="#1c1c1c" stroke-width="0.95"/>
<line x1="205.92" y1="346.50" x2="205.92" y2="348.10" stroke="#1c1c1c" stroke-width="0.95"/>
<text x="153.90" y="232.40" font-size="10.2" text-anchor="middle" fill="#1c1c1c" textLength="48.20" lengthAdjust="spacingAndGlyphs">H3K4me1</text>
<text x="0" y="0" font-size="9.5" text-anchor="middle" dominant-baseline="central" fill="#1c1c1c" textLength="36.00" lengthAdjust="spacingAndGlyphs" transform="translate(105.80,364.54) rotate(45)">GeneTSS</text>
<g transform="translate(122.30,357.00) rotate(45)"><text x="-6.5" y="3.0" font-size="9.0" fill="#1c1c1c" textLength="10.0" lengthAdjust="spacingAndGlyphs">10</text><text x="3.9" y="-0.2" font-size="5.6" fill="#1c1c1c" style="stroke-width:0.3px">4</text></g>
<g transform="translate(165.50,357.00) rotate(45)"><text x="-6.5" y="3.0" font-size="9.0" fill="#1c1c1c" textLength="10.0" lengthAdjust="spacingAndGlyphs">10</text><text x="3.9" y="-0.2" font-size="5.6" fill="#1c1c1c" style="stroke-width:0.3px">5</text></g>
<g transform="translate(208.60,357.00) rotate(45)"><text x="-6.5" y="3.0" font-size="9.0" fill="#1c1c1c" textLength="10.0" lengthAdjust="spacingAndGlyphs">10</text><text x="3.9" y="-0.2" font-size="5.6" fill="#1c1c1c" style="stroke-width:0.3px">6</text></g>
<polyline points="" fill="none" stroke="#86d4a9" stroke-width="1.55" stroke-linejoin="round" stroke-linecap="butt"/>
<polyline points="251.90,319.80 264.90,319.00 277.90,320.40 285.51,320.80 295.10,320.80 308.10,320.80 321.10,321.30 328.71,320.80" fill="none" stroke="#47bca9" stroke-width="1.55" stroke-linejoin="round" stroke-linecap="butt"/>
<circle cx="251.90" cy="319.80" r="2.1" fill="#47bca9" stroke="#fff" stroke-width="1.05"/>
<circle cx="264.90" cy="319.00" r="2.1" fill="#47bca9" stroke="#fff" stroke-width="1.05"/>
<circle cx="277.90" cy="320.40" r="2.1" fill="#47bca9" stroke="#fff" stroke-width="1.05"/>
<circle cx="285.51" cy="320.80" r="2.1" fill="#47bca9" stroke="#fff" stroke-width="1.05"/>
<circle cx="295.10" cy="320.80" r="2.1" fill="#47bca9" stroke="#fff" stroke-width="1.05"/>
<circle cx="308.10" cy="320.80" r="2.1" fill="#47bca9" stroke="#fff" stroke-width="1.05"/>
<circle cx="321.10" cy="321.30" r="2.1" fill="#47bca9" stroke="#fff" stroke-width="1.05"/>
<circle cx="328.71" cy="320.80" r="2.1" fill="#47bca9" stroke="#fff" stroke-width="1.05"/>
<polyline points="251.90,312.60 264.90,311.20 277.90,310.40 285.51,313.70 295.10,316.50 308.10,317.00 321.10,317.30 328.71,317.00 338.30,317.30" fill="none" stroke="#3596a8" stroke-width="1.55" stroke-linejoin="round" stroke-linecap="butt"/>
<circle cx="251.90" cy="312.60" r="2.1" fill="#3596a8" stroke="#fff" stroke-width="1.05"/>
<circle cx="264.90" cy="311.20" r="2.1" fill="#3596a8" stroke="#fff" stroke-width="1.05"/>
<circle cx="277.90" cy="310.40" r="2.1" fill="#3596a8" stroke="#fff" stroke-width="1.05"/>
<circle cx="285.51" cy="313.70" r="2.1" fill="#3596a8" stroke="#fff" stroke-width="1.05"/>
<circle cx="295.10" cy="316.50" r="2.1" fill="#3596a8" stroke="#fff" stroke-width="1.05"/>
<circle cx="308.10" cy="317.00" r="2.1" fill="#3596a8" stroke="#fff" stroke-width="1.05"/>
<circle cx="321.10" cy="317.30" r="2.1" fill="#3596a8" stroke="#fff" stroke-width="1.05"/>
<circle cx="328.71" cy="317.00" r="2.1" fill="#3596a8" stroke="#fff" stroke-width="1.05"/>
<circle cx="338.30" cy="317.30" r="2.1" fill="#3596a8" stroke="#fff" stroke-width="1.05"/>
<polyline points="251.90,309.00 264.90,301.80 277.90,297.50 285.51,296.50 295.10,303.00 308.10,311.20 321.10,313.20 328.71,313.00 338.30,313.20 351.30,315.50" fill="none" stroke="#3577a9" stroke-width="1.55" stroke-linejoin="round" stroke-linecap="butt"/>
<circle cx="251.90" cy="309.00" r="2.1" fill="#3577a9" stroke="#fff" stroke-width="1.05"/>
<circle cx="264.90" cy="301.80" r="2.1" fill="#3577a9" stroke="#fff" stroke-width="1.05"/>
<circle cx="277.90" cy="297.50" r="2.1" fill="#3577a9" stroke="#fff" stroke-width="1.05"/>
<circle cx="285.51" cy="296.50" r="2.1" fill="#3577a9" stroke="#fff" stroke-width="1.05"/>
<circle cx="295.10" cy="303.00" r="2.1" fill="#3577a9" stroke="#fff" stroke-width="1.05"/>
<circle cx="308.10" cy="311.20" r="2.1" fill="#3577a9" stroke="#fff" stroke-width="1.05"/>
<circle cx="321.10" cy="313.20" r="2.1" fill="#3577a9" stroke="#fff" stroke-width="1.05"/>
<circle cx="328.71" cy="313.00" r="2.1" fill="#3577a9" stroke="#fff" stroke-width="1.05"/>
<circle cx="338.30" cy="313.20" r="2.1" fill="#3577a9" stroke="#fff" stroke-width="1.05"/>
<circle cx="351.30" cy="315.50" r="2.1" fill="#3577a9" stroke="#fff" stroke-width="1.05"/>
<polyline points="251.90,306.80 264.90,299.20 277.90,290.60 285.51,284.00 295.10,282.20 308.10,292.20 321.10,302.70 328.71,305.10 338.30,306.50 351.30,308.70" fill="none" stroke="#3e53a0" stroke-width="1.55" stroke-linejoin="round" stroke-linecap="butt"/>
<circle cx="251.90" cy="306.80" r="2.1" fill="#3e53a0" stroke="#fff" stroke-width="1.05"/>
<circle cx="264.90" cy="299.20" r="2.1" fill="#3e53a0" stroke="#fff" stroke-width="1.05"/>
<circle cx="277.90" cy="290.60" r="2.1" fill="#3e53a0" stroke="#fff" stroke-width="1.05"/>
<circle cx="285.51" cy="284.00" r="2.1" fill="#3e53a0" stroke="#fff" stroke-width="1.05"/>
<circle cx="295.10" cy="282.20" r="2.1" fill="#3e53a0" stroke="#fff" stroke-width="1.05"/>
<circle cx="308.10" cy="292.20" r="2.1" fill="#3e53a0" stroke="#fff" stroke-width="1.05"/>
<circle cx="321.10" cy="302.70" r="2.1" fill="#3e53a0" stroke="#fff" stroke-width="1.05"/>
<circle cx="328.71" cy="305.10" r="2.1" fill="#3e53a0" stroke="#fff" stroke-width="1.05"/>
<circle cx="338.30" cy="306.50" r="2.1" fill="#3e53a0" stroke="#fff" stroke-width="1.05"/>
<circle cx="351.30" cy="308.70" r="2.1" fill="#3e53a0" stroke="#fff" stroke-width="1.05"/>
<polyline points="251.90,308.50 264.90,299.00 277.90,290.20 285.51,285.80 295.10,279.10 308.10,283.20 321.10,296.50 328.71,300.80 338.30,304.40 351.30,308.00" fill="none" stroke="#3b2d6b" stroke-width="1.55" stroke-linejoin="round" stroke-linecap="butt"/>
<circle cx="251.90" cy="308.50" r="2.1" fill="#3b2d6b" stroke="#fff" stroke-width="1.05"/>
<circle cx="264.90" cy="299.00" r="2.1" fill="#3b2d6b" stroke="#fff" stroke-width="1.05"/>
<circle cx="277.90" cy="290.20" r="2.1" fill="#3b2d6b" stroke="#fff" stroke-width="1.05"/>
<circle cx="285.51" cy="285.80" r="2.1" fill="#3b2d6b" stroke="#fff" stroke-width="1.05"/>
<circle cx="295.10" cy="279.10" r="2.1" fill="#3b2d6b" stroke="#fff" stroke-width="1.05"/>
<circle cx="308.10" cy="283.20" r="2.1" fill="#3b2d6b" stroke="#fff" stroke-width="1.05"/>
<circle cx="321.10" cy="296.50" r="2.1" fill="#3b2d6b" stroke="#fff" stroke-width="1.05"/>
<circle cx="328.71" cy="300.80" r="2.1" fill="#3b2d6b" stroke="#fff" stroke-width="1.05"/>
<circle cx="338.30" cy="304.40" r="2.1" fill="#3b2d6b" stroke="#fff" stroke-width="1.05"/>
<circle cx="351.30" cy="308.00" r="2.1" fill="#3b2d6b" stroke="#fff" stroke-width="1.05"/>
<polyline points="251.90,312.20 264.90,299.40 277.90,290.00 285.51,285.50 295.10,278.90 308.10,279.70 321.10,292.20 328.71,297.90 338.30,303.20 351.30,305.80" fill="none" stroke="#1e1230" stroke-width="1.55" stroke-linejoin="round" stroke-linecap="butt"/>
<circle cx="251.90" cy="312.20" r="2.1" fill="#1e1230" stroke="#fff" stroke-width="1.05"/>
<circle cx="264.90" cy="299.40" r="2.1" fill="#1e1230" stroke="#fff" stroke-width="1.05"/>
<circle cx="277.90" cy="290.00" r="2.1" fill="#1e1230" stroke="#fff" stroke-width="1.05"/>
<circle cx="285.51" cy="285.50" r="2.1" fill="#1e1230" stroke="#fff" stroke-width="1.05"/>
<circle cx="295.10" cy="278.90" r="2.1" fill="#1e1230" stroke="#fff" stroke-width="1.05"/>
<circle cx="308.10" cy="279.70" r="2.1" fill="#1e1230" stroke="#fff" stroke-width="1.05"/>
<circle cx="321.10" cy="292.20" r="2.1" fill="#1e1230" stroke="#fff" stroke-width="1.05"/>
<circle cx="328.71" cy="297.90" r="2.1" fill="#1e1230" stroke="#fff" stroke-width="1.05"/>
<circle cx="338.30" cy="303.20" r="2.1" fill="#1e1230" stroke="#fff" stroke-width="1.05"/>
<circle cx="351.30" cy="305.80" r="2.1" fill="#1e1230" stroke="#fff" stroke-width="1.05"/>
<circle cx="243.00" cy="316.80" r="2.1" fill="#86d4a9" stroke="#fff" stroke-width="1.05"/>
<circle cx="243.00" cy="314.60" r="2.1" fill="#47bca9" stroke="#fff" stroke-width="1.05"/>
<circle cx="243.00" cy="312.00" r="2.1" fill="#3596a8" stroke="#fff" stroke-width="1.05"/>
<circle cx="243.00" cy="308.50" r="2.1" fill="#3577a9" stroke="#fff" stroke-width="1.05"/>
<circle cx="243.00" cy="305.30" r="2.1" fill="#3e53a0" stroke="#fff" stroke-width="1.05"/>
<circle cx="243.00" cy="300.00" r="2.1" fill="#3b2d6b" stroke="#fff" stroke-width="1.05"/>
<circle cx="243.00" cy="296.30" r="2.1" fill="#1e1230" stroke="#fff" stroke-width="1.05"/>
<rect x="237.40" y="235.50" width="119.80" height="111.00" fill="none" stroke="#1c1c1c" stroke-width="1.15"/>
<line x1="235.50" y1="346.50" x2="237.40" y2="346.50" stroke="#1c1c1c" stroke-width="0.9"/>
<line x1="235.50" y1="314.50" x2="237.40" y2="314.50" stroke="#1c1c1c" stroke-width="0.9"/>
<line x1="235.50" y1="282.50" x2="237.40" y2="282.50" stroke="#1c1c1c" stroke-width="0.9"/>
<line x1="235.50" y1="250.50" x2="237.40" y2="250.50" stroke="#1c1c1c" stroke-width="0.9"/>
<line x1="264.90" y1="346.50" x2="264.90" y2="348.40" stroke="#1c1c1c" stroke-width="0.9"/>
<line x1="308.10" y1="346.50" x2="308.10" y2="348.40" stroke="#1c1c1c" stroke-width="0.9"/>
<line x1="351.30" y1="346.50" x2="351.30" y2="348.40" stroke="#1c1c1c" stroke-width="0.9"/>
<line x1="242.31" y1="346.50" x2="242.31" y2="348.10" stroke="#1c1c1c" stroke-width="0.95"/>
<line x1="247.71" y1="346.50" x2="247.71" y2="348.10" stroke="#1c1c1c" stroke-width="0.95"/>
<line x1="251.90" y1="346.50" x2="251.90" y2="348.10" stroke="#1c1c1c" stroke-width="0.95"/>
<line x1="255.32" y1="346.50" x2="255.32" y2="348.10" stroke="#1c1c1c" stroke-width="0.95"/>
<line x1="258.21" y1="346.50" x2="258.21" y2="348.10" stroke="#1c1c1c" stroke-width="0.95"/>
<line x1="260.71" y1="346.50" x2="260.71" y2="348.10" stroke="#1c1c1c" stroke-width="0.95"/>
<line x1="262.92" y1="346.50" x2="262.92" y2="348.10" stroke="#1c1c1c" stroke-width="0.95"/>
<line x1="277.90" y1="346.50" x2="277.90" y2="348.10" stroke="#1c1c1c" stroke-width="0.95"/>
<line x1="285.51" y1="346.50" x2="285.51" y2="348.10" stroke="#1c1c1c" stroke-width="0.95"/>
<line x1="290.91" y1="346.50" x2="290.91" y2="348.10" stroke="#1c1c1c" stroke-width="0.95"/>
<line x1="295.10" y1="346.50" x2="295.10" y2="348.10" stroke="#1c1c1c" stroke-width="0.95"/>
<line x1="298.52" y1="346.50" x2="298.52" y2="348.10" stroke="#1c1c1c" stroke-width="0.95"/>
<line x1="301.41" y1="346.50" x2="301.41" y2="348.10" stroke="#1c1c1c" stroke-width="0.95"/>
<line x1="303.91" y1="346.50" x2="303.91" y2="348.10" stroke="#1c1c1c" stroke-width="0.95"/>
<line x1="306.12" y1="346.50" x2="306.12" y2="348.10" stroke="#1c1c1c" stroke-width="0.95"/>
<line x1="321.10" y1="346.50" x2="321.10" y2="348.10" stroke="#1c1c1c" stroke-width="0.95"/>
<line x1="328.71" y1="346.50" x2="328.71" y2="348.10" stroke="#1c1c1c" stroke-width="0.95"/>
<line x1="334.11" y1="346.50" x2="334.11" y2="348.10" stroke="#1c1c1c" stroke-width="0.95"/>
<line x1="338.30" y1="346.50" x2="338.30" y2="348.10" stroke="#1c1c1c" stroke-width="0.95"/>
<line x1="341.72" y1="346.50" x2="341.72" y2="348.10" stroke="#1c1c1c" stroke-width="0.95"/>
<line x1="344.61" y1="346.50" x2="344.61" y2="348.10" stroke="#1c1c1c" stroke-width="0.95"/>
<line x1="347.11" y1="346.50" x2="347.11" y2="348.10" stroke="#1c1c1c" stroke-width="0.95"/>
<line x1="349.32" y1="346.50" x2="349.32" y2="348.10" stroke="#1c1c1c" stroke-width="0.95"/>
<text x="297.30" y="232.40" font-size="10.2" text-anchor="middle" fill="#1c1c1c" textLength="54.50" lengthAdjust="spacingAndGlyphs">H3K27me3</text>
<text x="0" y="0" font-size="9.5" text-anchor="middle" dominant-baseline="central" fill="#1c1c1c" textLength="36.00" lengthAdjust="spacingAndGlyphs" transform="translate(249.20,364.54) rotate(45)">GeneTSS</text>
<g transform="translate(265.70,357.00) rotate(45)"><text x="-6.5" y="3.0" font-size="9.0" fill="#1c1c1c" textLength="10.0" lengthAdjust="spacingAndGlyphs">10</text><text x="3.9" y="-0.2" font-size="5.6" fill="#1c1c1c" style="stroke-width:0.3px">4</text></g>
<g transform="translate(308.90,357.00) rotate(45)"><text x="-6.5" y="3.0" font-size="9.0" fill="#1c1c1c" textLength="10.0" lengthAdjust="spacingAndGlyphs">10</text><text x="3.9" y="-0.2" font-size="5.6" fill="#1c1c1c" style="stroke-width:0.3px">5</text></g>
<g transform="translate(352.00,357.00) rotate(45)"><text x="-6.5" y="3.0" font-size="9.0" fill="#1c1c1c" textLength="10.0" lengthAdjust="spacingAndGlyphs">10</text><text x="3.9" y="-0.2" font-size="5.6" fill="#1c1c1c" style="stroke-width:0.3px">6</text></g>
<polyline points="408.30,301.30 421.30,300.70 428.91,300.70 438.50,302.00 451.50,304.00 464.50,311.20 472.11,314.60 481.70,320.00" fill="none" stroke="#86d4a9" stroke-width="1.55" stroke-linejoin="round" stroke-linecap="butt"/>
<circle cx="408.30" cy="301.30" r="2.1" fill="#86d4a9" stroke="#fff" stroke-width="1.05"/>
<circle cx="421.30" cy="300.70" r="2.1" fill="#86d4a9" stroke="#fff" stroke-width="1.05"/>
<circle cx="428.91" cy="300.70" r="2.1" fill="#86d4a9" stroke="#fff" stroke-width="1.05"/>
<circle cx="438.50" cy="302.00" r="2.1" fill="#86d4a9" stroke="#fff" stroke-width="1.05"/>
<circle cx="451.50" cy="304.00" r="2.1" fill="#86d4a9" stroke="#fff" stroke-width="1.05"/>
<circle cx="464.50" cy="311.20" r="2.1" fill="#86d4a9" stroke="#fff" stroke-width="1.05"/>
<circle cx="472.11" cy="314.60" r="2.1" fill="#86d4a9" stroke="#fff" stroke-width="1.05"/>
<circle cx="481.70" cy="320.00" r="2.1" fill="#86d4a9" stroke="#fff" stroke-width="1.05"/>
<polyline points="395.30,267.50 408.30,262.90 421.30,262.90 428.91,263.50 438.50,265.10 451.50,266.80 464.50,272.20 472.11,279.70 481.70,294.70 494.70,310.40" fill="none" stroke="#47bca9" stroke-width="1.55" stroke-linejoin="round" stroke-linecap="butt"/>
<circle cx="395.30" cy="267.50" r="2.1" fill="#47bca9" stroke="#fff" stroke-width="1.05"/>
<circle cx="408.30" cy="262.90" r="2.1" fill="#47bca9" stroke="#fff" stroke-width="1.05"/>
<circle cx="421.30" cy="262.90" r="2.1" fill="#47bca9" stroke="#fff" stroke-width="1.05"/>
<circle cx="428.91" cy="263.50" r="2.1" fill="#47bca9" stroke="#fff" stroke-width="1.05"/>
<circle cx="438.50" cy="265.10" r="2.1" fill="#47bca9" stroke="#fff" stroke-width="1.05"/>
<circle cx="451.50" cy="266.80" r="2.1" fill="#47bca9" stroke="#fff" stroke-width="1.05"/>
<circle cx="464.50" cy="272.20" r="2.1" fill="#47bca9" stroke="#fff" stroke-width="1.05"/>
<circle cx="472.11" cy="279.70" r="2.1" fill="#47bca9" stroke="#fff" stroke-width="1.05"/>
<circle cx="481.70" cy="294.70" r="2.1" fill="#47bca9" stroke="#fff" stroke-width="1.05"/>
<circle cx="494.70" cy="310.40" r="2.1" fill="#47bca9" stroke="#fff" stroke-width="1.05"/>
<polyline points="395.30,262.00 408.30,253.60 421.30,256.00 428.91,256.50 438.50,256.60 451.50,257.20 464.50,260.40 472.11,266.20 481.70,276.00 494.70,296.20" fill="none" stroke="#3596a8" stroke-width="1.55" stroke-linejoin="round" stroke-linecap="butt"/>
<circle cx="395.30" cy="262.00" r="2.1" fill="#3596a8" stroke="#fff" stroke-width="1.05"/>
<circle cx="408.30" cy="253.60" r="2.1" fill="#3596a8" stroke="#fff" stroke-width="1.05"/>
<circle cx="421.30" cy="256.00" r="2.1" fill="#3596a8" stroke="#fff" stroke-width="1.05"/>
<circle cx="428.91" cy="256.50" r="2.1" fill="#3596a8" stroke="#fff" stroke-width="1.05"/>
<circle cx="438.50" cy="256.60" r="2.1" fill="#3596a8" stroke="#fff" stroke-width="1.05"/>
<circle cx="451.50" cy="257.20" r="2.1" fill="#3596a8" stroke="#fff" stroke-width="1.05"/>
<circle cx="464.50" cy="260.40" r="2.1" fill="#3596a8" stroke="#fff" stroke-width="1.05"/>
<circle cx="472.11" cy="266.20" r="2.1" fill="#3596a8" stroke="#fff" stroke-width="1.05"/>
<circle cx="481.70" cy="276.00" r="2.1" fill="#3596a8" stroke="#fff" stroke-width="1.05"/>
<circle cx="494.70" cy="296.20" r="2.1" fill="#3596a8" stroke="#fff" stroke-width="1.05"/>
<polyline points="395.30,258.00 408.30,248.50 421.30,250.70 428.91,251.20 438.50,251.50 451.50,251.80 464.50,254.60 472.11,257.60 481.70,263.60 494.70,280.80" fill="none" stroke="#3577a9" stroke-width="1.55" stroke-linejoin="round" stroke-linecap="butt"/>
<circle cx="395.30" cy="258.00" r="2.1" fill="#3577a9" stroke="#fff" stroke-width="1.05"/>
<circle cx="408.30" cy="248.50" r="2.1" fill="#3577a9" stroke="#fff" stroke-width="1.05"/>
<circle cx="421.30" cy="250.70" r="2.1" fill="#3577a9" stroke="#fff" stroke-width="1.05"/>
<circle cx="428.91" cy="251.20" r="2.1" fill="#3577a9" stroke="#fff" stroke-width="1.05"/>
<circle cx="438.50" cy="251.50" r="2.1" fill="#3577a9" stroke="#fff" stroke-width="1.05"/>
<circle cx="451.50" cy="251.80" r="2.1" fill="#3577a9" stroke="#fff" stroke-width="1.05"/>
<circle cx="464.50" cy="254.60" r="2.1" fill="#3577a9" stroke="#fff" stroke-width="1.05"/>
<circle cx="472.11" cy="257.60" r="2.1" fill="#3577a9" stroke="#fff" stroke-width="1.05"/>
<circle cx="481.70" cy="263.60" r="2.1" fill="#3577a9" stroke="#fff" stroke-width="1.05"/>
<circle cx="494.70" cy="280.80" r="2.1" fill="#3577a9" stroke="#fff" stroke-width="1.05"/>
<polyline points="395.30,254.30 408.30,245.00 421.30,246.40 428.91,246.40 438.50,246.80 451.50,247.50 464.50,249.00 472.11,250.50 481.70,255.00 494.70,262.50" fill="none" stroke="#3e53a0" stroke-width="1.55" stroke-linejoin="round" stroke-linecap="butt"/>
<circle cx="395.30" cy="254.30" r="2.1" fill="#3e53a0" stroke="#fff" stroke-width="1.05"/>
<circle cx="408.30" cy="245.00" r="2.1" fill="#3e53a0" stroke="#fff" stroke-width="1.05"/>
<circle cx="421.30" cy="246.40" r="2.1" fill="#3e53a0" stroke="#fff" stroke-width="1.05"/>
<circle cx="428.91" cy="246.40" r="2.1" fill="#3e53a0" stroke="#fff" stroke-width="1.05"/>
<circle cx="438.50" cy="246.80" r="2.1" fill="#3e53a0" stroke="#fff" stroke-width="1.05"/>
<circle cx="451.50" cy="247.50" r="2.1" fill="#3e53a0" stroke="#fff" stroke-width="1.05"/>
<circle cx="464.50" cy="249.00" r="2.1" fill="#3e53a0" stroke="#fff" stroke-width="1.05"/>
<circle cx="472.11" cy="250.50" r="2.1" fill="#3e53a0" stroke="#fff" stroke-width="1.05"/>
<circle cx="481.70" cy="255.00" r="2.1" fill="#3e53a0" stroke="#fff" stroke-width="1.05"/>
<circle cx="494.70" cy="262.50" r="2.1" fill="#3e53a0" stroke="#fff" stroke-width="1.05"/>
<polyline points="395.30,258.60 408.30,247.50 421.30,245.50 428.91,246.40 438.50,246.40 451.50,246.80 464.50,248.50 472.11,249.50 481.70,253.00 494.70,258.00" fill="none" stroke="#3b2d6b" stroke-width="1.55" stroke-linejoin="round" stroke-linecap="butt"/>
<circle cx="395.30" cy="258.60" r="2.1" fill="#3b2d6b" stroke="#fff" stroke-width="1.05"/>
<circle cx="408.30" cy="247.50" r="2.1" fill="#3b2d6b" stroke="#fff" stroke-width="1.05"/>
<circle cx="421.30" cy="245.50" r="2.1" fill="#3b2d6b" stroke="#fff" stroke-width="1.05"/>
<circle cx="428.91" cy="246.40" r="2.1" fill="#3b2d6b" stroke="#fff" stroke-width="1.05"/>
<circle cx="438.50" cy="246.40" r="2.1" fill="#3b2d6b" stroke="#fff" stroke-width="1.05"/>
<circle cx="451.50" cy="246.80" r="2.1" fill="#3b2d6b" stroke="#fff" stroke-width="1.05"/>
<circle cx="464.50" cy="248.50" r="2.1" fill="#3b2d6b" stroke="#fff" stroke-width="1.05"/>
<circle cx="472.11" cy="249.50" r="2.1" fill="#3b2d6b" stroke="#fff" stroke-width="1.05"/>
<circle cx="481.70" cy="253.00" r="2.1" fill="#3b2d6b" stroke="#fff" stroke-width="1.05"/>
<circle cx="494.70" cy="258.00" r="2.1" fill="#3b2d6b" stroke="#fff" stroke-width="1.05"/>
<polyline points="395.30,261.50 408.30,249.70 421.30,244.00 428.91,246.40 438.50,246.40 451.50,246.40 464.50,248.20 472.11,249.00 481.70,251.80 494.70,256.70" fill="none" stroke="#1e1230" stroke-width="1.55" stroke-linejoin="round" stroke-linecap="butt"/>
<circle cx="395.30" cy="261.50" r="2.1" fill="#1e1230" stroke="#fff" stroke-width="1.05"/>
<circle cx="408.30" cy="249.70" r="2.1" fill="#1e1230" stroke="#fff" stroke-width="1.05"/>
<circle cx="421.30" cy="244.00" r="2.1" fill="#1e1230" stroke="#fff" stroke-width="1.05"/>
<circle cx="428.91" cy="246.40" r="2.1" fill="#1e1230" stroke="#fff" stroke-width="1.05"/>
<circle cx="438.50" cy="246.40" r="2.1" fill="#1e1230" stroke="#fff" stroke-width="1.05"/>
<circle cx="451.50" cy="246.40" r="2.1" fill="#1e1230" stroke="#fff" stroke-width="1.05"/>
<circle cx="464.50" cy="248.20" r="2.1" fill="#1e1230" stroke="#fff" stroke-width="1.05"/>
<circle cx="472.11" cy="249.00" r="2.1" fill="#1e1230" stroke="#fff" stroke-width="1.05"/>
<circle cx="481.70" cy="251.80" r="2.1" fill="#1e1230" stroke="#fff" stroke-width="1.05"/>
<circle cx="494.70" cy="256.70" r="2.1" fill="#1e1230" stroke="#fff" stroke-width="1.05"/>
<circle cx="386.40" cy="278.40" r="2.1" fill="#86d4a9" stroke="#fff" stroke-width="1.05"/>
<circle cx="386.40" cy="265.80" r="2.1" fill="#47bca9" stroke="#fff" stroke-width="1.05"/>
<circle cx="386.40" cy="264.00" r="2.1" fill="#3596a8" stroke="#fff" stroke-width="1.05"/>
<circle cx="386.40" cy="263.00" r="2.1" fill="#3577a9" stroke="#fff" stroke-width="1.05"/>
<circle cx="386.40" cy="260.00" r="2.1" fill="#3e53a0" stroke="#fff" stroke-width="1.05"/>
<circle cx="386.40" cy="259.50" r="2.1" fill="#3b2d6b" stroke="#fff" stroke-width="1.05"/>
<circle cx="386.40" cy="262.20" r="2.1" fill="#1e1230" stroke="#fff" stroke-width="1.05"/>
<rect x="380.80" y="235.50" width="119.80" height="111.00" fill="none" stroke="#1c1c1c" stroke-width="1.15"/>
<line x1="378.90" y1="346.50" x2="380.80" y2="346.50" stroke="#1c1c1c" stroke-width="0.9"/>
<line x1="378.90" y1="314.50" x2="380.80" y2="314.50" stroke="#1c1c1c" stroke-width="0.9"/>
<line x1="378.90" y1="282.50" x2="380.80" y2="282.50" stroke="#1c1c1c" stroke-width="0.9"/>
<line x1="378.90" y1="250.50" x2="380.80" y2="250.50" stroke="#1c1c1c" stroke-width="0.9"/>
<line x1="408.30" y1="346.50" x2="408.30" y2="348.40" stroke="#1c1c1c" stroke-width="0.9"/>
<line x1="451.50" y1="346.50" x2="451.50" y2="348.40" stroke="#1c1c1c" stroke-width="0.9"/>
<line x1="494.70" y1="346.50" x2="494.70" y2="348.40" stroke="#1c1c1c" stroke-width="0.9"/>
<line x1="385.71" y1="346.50" x2="385.71" y2="348.10" stroke="#1c1c1c" stroke-width="0.95"/>
<line x1="391.11" y1="346.50" x2="391.11" y2="348.10" stroke="#1c1c1c" stroke-width="0.95"/>
<line x1="395.30" y1="346.50" x2="395.30" y2="348.10" stroke="#1c1c1c" stroke-width="0.95"/>
<line x1="398.72" y1="346.50" x2="398.72" y2="348.10" stroke="#1c1c1c" stroke-width="0.95"/>
<line x1="401.61" y1="346.50" x2="401.61" y2="348.10" stroke="#1c1c1c" stroke-width="0.95"/>
<line x1="404.11" y1="346.50" x2="404.11" y2="348.10" stroke="#1c1c1c" stroke-width="0.95"/>
<line x1="406.32" y1="346.50" x2="406.32" y2="348.10" stroke="#1c1c1c" stroke-width="0.95"/>
<line x1="421.30" y1="346.50" x2="421.30" y2="348.10" stroke="#1c1c1c" stroke-width="0.95"/>
<line x1="428.91" y1="346.50" x2="428.91" y2="348.10" stroke="#1c1c1c" stroke-width="0.95"/>
<line x1="434.31" y1="346.50" x2="434.31" y2="348.10" stroke="#1c1c1c" stroke-width="0.95"/>
<line x1="438.50" y1="346.50" x2="438.50" y2="348.10" stroke="#1c1c1c" stroke-width="0.95"/>
<line x1="441.92" y1="346.50" x2="441.92" y2="348.10" stroke="#1c1c1c" stroke-width="0.95"/>
<line x1="444.81" y1="346.50" x2="444.81" y2="348.10" stroke="#1c1c1c" stroke-width="0.95"/>
<line x1="447.31" y1="346.50" x2="447.31" y2="348.10" stroke="#1c1c1c" stroke-width="0.95"/>
<line x1="449.52" y1="346.50" x2="449.52" y2="348.10" stroke="#1c1c1c" stroke-width="0.95"/>
<line x1="464.50" y1="346.50" x2="464.50" y2="348.10" stroke="#1c1c1c" stroke-width="0.95"/>
<line x1="472.11" y1="346.50" x2="472.11" y2="348.10" stroke="#1c1c1c" stroke-width="0.95"/>
<line x1="477.51" y1="346.50" x2="477.51" y2="348.10" stroke="#1c1c1c" stroke-width="0.95"/>
<line x1="481.70" y1="346.50" x2="481.70" y2="348.10" stroke="#1c1c1c" stroke-width="0.95"/>
<line x1="485.12" y1="346.50" x2="485.12" y2="348.10" stroke="#1c1c1c" stroke-width="0.95"/>
<line x1="488.01" y1="346.50" x2="488.01" y2="348.10" stroke="#1c1c1c" stroke-width="0.95"/>
<line x1="490.51" y1="346.50" x2="490.51" y2="348.10" stroke="#1c1c1c" stroke-width="0.95"/>
<line x1="492.72" y1="346.50" x2="492.72" y2="348.10" stroke="#1c1c1c" stroke-width="0.95"/>
<text x="440.70" y="232.40" font-size="10.2" text-anchor="middle" fill="#1c1c1c" textLength="48.20" lengthAdjust="spacingAndGlyphs">H3K4me1</text>
<text x="0" y="0" font-size="9.5" text-anchor="middle" dominant-baseline="central" fill="#1c1c1c" textLength="36.00" lengthAdjust="spacingAndGlyphs" transform="translate(392.60,364.54) rotate(45)">GeneTSS</text>
<g transform="translate(409.10,357.00) rotate(45)"><text x="-6.5" y="3.0" font-size="9.0" fill="#1c1c1c" textLength="10.0" lengthAdjust="spacingAndGlyphs">10</text><text x="3.9" y="-0.2" font-size="5.6" fill="#1c1c1c" style="stroke-width:0.3px">4</text></g>
<g transform="translate(452.30,357.00) rotate(45)"><text x="-6.5" y="3.0" font-size="9.0" fill="#1c1c1c" textLength="10.0" lengthAdjust="spacingAndGlyphs">10</text><text x="3.9" y="-0.2" font-size="5.6" fill="#1c1c1c" style="stroke-width:0.3px">5</text></g>
<g transform="translate(495.40,357.00) rotate(45)"><text x="-6.5" y="3.0" font-size="9.0" fill="#1c1c1c" textLength="10.0" lengthAdjust="spacingAndGlyphs">10</text><text x="3.9" y="-0.2" font-size="5.6" fill="#1c1c1c" style="stroke-width:0.3px">6</text></g>
<polyline points="" fill="none" stroke="#86d4a9" stroke-width="1.55" stroke-linejoin="round" stroke-linecap="butt"/>
<polyline points="551.70,311.70 564.70,311.30 572.31,309.80 581.90,307.90 594.90,303.10 607.90,304.00 615.51,304.30" fill="none" stroke="#47bca9" stroke-width="1.55" stroke-linejoin="round" stroke-linecap="butt"/>
<circle cx="551.70" cy="311.70" r="2.1" fill="#47bca9" stroke="#fff" stroke-width="1.05"/>
<circle cx="564.70" cy="311.30" r="2.1" fill="#47bca9" stroke="#fff" stroke-width="1.05"/>
<circle cx="572.31" cy="309.80" r="2.1" fill="#47bca9" stroke="#fff" stroke-width="1.05"/>
<circle cx="581.90" cy="307.90" r="2.1" fill="#47bca9" stroke="#fff" stroke-width="1.05"/>
<circle cx="594.90" cy="303.10" r="2.1" fill="#47bca9" stroke="#fff" stroke-width="1.05"/>
<circle cx="607.90" cy="304.00" r="2.1" fill="#47bca9" stroke="#fff" stroke-width="1.05"/>
<circle cx="615.51" cy="304.30" r="2.1" fill="#47bca9" stroke="#fff" stroke-width="1.05"/>
<polyline points="538.70,317.00 551.70,306.00 564.70,297.00 572.31,292.10 581.90,288.70 594.90,286.20 607.90,289.10 615.51,290.10 625.10,295.50" fill="none" stroke="#3596a8" stroke-width="1.55" stroke-linejoin="round" stroke-linecap="butt"/>
<circle cx="538.70" cy="317.00" r="2.1" fill="#3596a8" stroke="#fff" stroke-width="1.05"/>
<circle cx="551.70" cy="306.00" r="2.1" fill="#3596a8" stroke="#fff" stroke-width="1.05"/>
<circle cx="564.70" cy="297.00" r="2.1" fill="#3596a8" stroke="#fff" stroke-width="1.05"/>
<circle cx="572.31" cy="292.10" r="2.1" fill="#3596a8" stroke="#fff" stroke-width="1.05"/>
<circle cx="581.90" cy="288.70" r="2.1" fill="#3596a8" stroke="#fff" stroke-width="1.05"/>
<circle cx="594.90" cy="286.20" r="2.1" fill="#3596a8" stroke="#fff" stroke-width="1.05"/>
<circle cx="607.90" cy="289.10" r="2.1" fill="#3596a8" stroke="#fff" stroke-width="1.05"/>
<circle cx="615.51" cy="290.10" r="2.1" fill="#3596a8" stroke="#fff" stroke-width="1.05"/>
<circle cx="625.10" cy="295.50" r="2.1" fill="#3596a8" stroke="#fff" stroke-width="1.05"/>
<polyline points="538.70,316.00 551.70,304.00 564.70,295.00 572.31,289.00 581.90,283.50 594.90,278.90 607.90,281.10 615.51,281.60 625.10,285.00 638.10,295.50" fill="none" stroke="#3577a9" stroke-width="1.55" stroke-linejoin="round" stroke-linecap="butt"/>
<circle cx="538.70" cy="316.00" r="2.1" fill="#3577a9" stroke="#fff" stroke-width="1.05"/>
<circle cx="551.70" cy="304.00" r="2.1" fill="#3577a9" stroke="#fff" stroke-width="1.05"/>
<circle cx="564.70" cy="295.00" r="2.1" fill="#3577a9" stroke="#fff" stroke-width="1.05"/>
<circle cx="572.31" cy="289.00" r="2.1" fill="#3577a9" stroke="#fff" stroke-width="1.05"/>
<circle cx="581.90" cy="283.50" r="2.1" fill="#3577a9" stroke="#fff" stroke-width="1.05"/>
<circle cx="594.90" cy="278.90" r="2.1" fill="#3577a9" stroke="#fff" stroke-width="1.05"/>
<circle cx="607.90" cy="281.10" r="2.1" fill="#3577a9" stroke="#fff" stroke-width="1.05"/>
<circle cx="615.51" cy="281.60" r="2.1" fill="#3577a9" stroke="#fff" stroke-width="1.05"/>
<circle cx="625.10" cy="285.00" r="2.1" fill="#3577a9" stroke="#fff" stroke-width="1.05"/>
<circle cx="638.10" cy="295.50" r="2.1" fill="#3577a9" stroke="#fff" stroke-width="1.05"/>
<polyline points="538.70,315.40 551.70,302.00 564.70,293.40 572.31,287.00 581.90,282.10 594.90,278.50 607.90,276.50 615.51,277.00 625.10,278.20 638.10,285.00" fill="none" stroke="#3e53a0" stroke-width="1.55" stroke-linejoin="round" stroke-linecap="butt"/>
<circle cx="538.70" cy="315.40" r="2.1" fill="#3e53a0" stroke="#fff" stroke-width="1.05"/>
<circle cx="551.70" cy="302.00" r="2.1" fill="#3e53a0" stroke="#fff" stroke-width="1.05"/>
<circle cx="564.70" cy="293.40" r="2.1" fill="#3e53a0" stroke="#fff" stroke-width="1.05"/>
<circle cx="572.31" cy="287.00" r="2.1" fill="#3e53a0" stroke="#fff" stroke-width="1.05"/>
<circle cx="581.90" cy="282.10" r="2.1" fill="#3e53a0" stroke="#fff" stroke-width="1.05"/>
<circle cx="594.90" cy="278.50" r="2.1" fill="#3e53a0" stroke="#fff" stroke-width="1.05"/>
<circle cx="607.90" cy="276.50" r="2.1" fill="#3e53a0" stroke="#fff" stroke-width="1.05"/>
<circle cx="615.51" cy="277.00" r="2.1" fill="#3e53a0" stroke="#fff" stroke-width="1.05"/>
<circle cx="625.10" cy="278.20" r="2.1" fill="#3e53a0" stroke="#fff" stroke-width="1.05"/>
<circle cx="638.10" cy="285.00" r="2.1" fill="#3e53a0" stroke="#fff" stroke-width="1.05"/>
<polyline points="538.70,318.00 551.70,306.30 564.70,296.40 572.31,291.00 581.90,283.60 594.90,278.20 607.90,276.90 615.51,277.20 625.10,278.50 638.10,283.60" fill="none" stroke="#3b2d6b" stroke-width="1.55" stroke-linejoin="round" stroke-linecap="butt"/>
<circle cx="538.70" cy="318.00" r="2.1" fill="#3b2d6b" stroke="#fff" stroke-width="1.05"/>
<circle cx="551.70" cy="306.30" r="2.1" fill="#3b2d6b" stroke="#fff" stroke-width="1.05"/>
<circle cx="564.70" cy="296.40" r="2.1" fill="#3b2d6b" stroke="#fff" stroke-width="1.05"/>
<circle cx="572.31" cy="291.00" r="2.1" fill="#3b2d6b" stroke="#fff" stroke-width="1.05"/>
<circle cx="581.90" cy="283.60" r="2.1" fill="#3b2d6b" stroke="#fff" stroke-width="1.05"/>
<circle cx="594.90" cy="278.20" r="2.1" fill="#3b2d6b" stroke="#fff" stroke-width="1.05"/>
<circle cx="607.90" cy="276.90" r="2.1" fill="#3b2d6b" stroke="#fff" stroke-width="1.05"/>
<circle cx="615.51" cy="277.20" r="2.1" fill="#3b2d6b" stroke="#fff" stroke-width="1.05"/>
<circle cx="625.10" cy="278.50" r="2.1" fill="#3b2d6b" stroke="#fff" stroke-width="1.05"/>
<circle cx="638.10" cy="283.60" r="2.1" fill="#3b2d6b" stroke="#fff" stroke-width="1.05"/>
<polyline points="538.70,319.50 551.70,311.70 564.70,297.20 572.31,293.10 581.90,286.70 594.90,278.60 607.90,277.70 615.51,277.20 625.10,277.70 638.10,282.30" fill="none" stroke="#1e1230" stroke-width="1.55" stroke-linejoin="round" stroke-linecap="butt"/>
<circle cx="538.70" cy="319.50" r="2.1" fill="#1e1230" stroke="#fff" stroke-width="1.05"/>
<circle cx="551.70" cy="311.70" r="2.1" fill="#1e1230" stroke="#fff" stroke-width="1.05"/>
<circle cx="564.70" cy="297.20" r="2.1" fill="#1e1230" stroke="#fff" stroke-width="1.05"/>
<circle cx="572.31" cy="293.10" r="2.1" fill="#1e1230" stroke="#fff" stroke-width="1.05"/>
<circle cx="581.90" cy="286.70" r="2.1" fill="#1e1230" stroke="#fff" stroke-width="1.05"/>
<circle cx="594.90" cy="278.60" r="2.1" fill="#1e1230" stroke="#fff" stroke-width="1.05"/>
<circle cx="607.90" cy="277.70" r="2.1" fill="#1e1230" stroke="#fff" stroke-width="1.05"/>
<circle cx="615.51" cy="277.20" r="2.1" fill="#1e1230" stroke="#fff" stroke-width="1.05"/>
<circle cx="625.10" cy="277.70" r="2.1" fill="#1e1230" stroke="#fff" stroke-width="1.05"/>
<circle cx="638.10" cy="282.30" r="2.1" fill="#1e1230" stroke="#fff" stroke-width="1.05"/>
<circle cx="529.80" cy="312.20" r="2.1" fill="#86d4a9" stroke="#fff" stroke-width="1.05"/>
<circle cx="529.80" cy="303.00" r="2.1" fill="#47bca9" stroke="#fff" stroke-width="1.05"/>
<circle cx="529.80" cy="301.50" r="2.1" fill="#3596a8" stroke="#fff" stroke-width="1.05"/>
<circle cx="529.80" cy="299.00" r="2.1" fill="#3577a9" stroke="#fff" stroke-width="1.05"/>
<circle cx="529.80" cy="297.40" r="2.1" fill="#3e53a0" stroke="#fff" stroke-width="1.05"/>
<circle cx="529.80" cy="295.00" r="2.1" fill="#3b2d6b" stroke="#fff" stroke-width="1.05"/>
<circle cx="529.80" cy="293.10" r="2.1" fill="#1e1230" stroke="#fff" stroke-width="1.05"/>
<rect x="524.20" y="235.50" width="119.80" height="111.00" fill="none" stroke="#1c1c1c" stroke-width="1.15"/>
<line x1="522.30" y1="346.50" x2="524.20" y2="346.50" stroke="#1c1c1c" stroke-width="0.9"/>
<line x1="522.30" y1="314.50" x2="524.20" y2="314.50" stroke="#1c1c1c" stroke-width="0.9"/>
<line x1="522.30" y1="282.50" x2="524.20" y2="282.50" stroke="#1c1c1c" stroke-width="0.9"/>
<line x1="522.30" y1="250.50" x2="524.20" y2="250.50" stroke="#1c1c1c" stroke-width="0.9"/>
<line x1="551.70" y1="346.50" x2="551.70" y2="348.40" stroke="#1c1c1c" stroke-width="0.9"/>
<line x1="594.90" y1="346.50" x2="594.90" y2="348.40" stroke="#1c1c1c" stroke-width="0.9"/>
<line x1="638.10" y1="346.50" x2="638.10" y2="348.40" stroke="#1c1c1c" stroke-width="0.9"/>
<line x1="529.11" y1="346.50" x2="529.11" y2="348.10" stroke="#1c1c1c" stroke-width="0.95"/>
<line x1="534.51" y1="346.50" x2="534.51" y2="348.10" stroke="#1c1c1c" stroke-width="0.95"/>
<line x1="538.70" y1="346.50" x2="538.70" y2="348.10" stroke="#1c1c1c" stroke-width="0.95"/>
<line x1="542.12" y1="346.50" x2="542.12" y2="348.10" stroke="#1c1c1c" stroke-width="0.95"/>
<line x1="545.01" y1="346.50" x2="545.01" y2="348.10" stroke="#1c1c1c" stroke-width="0.95"/>
<line x1="547.51" y1="346.50" x2="547.51" y2="348.10" stroke="#1c1c1c" stroke-width="0.95"/>
<line x1="549.72" y1="346.50" x2="549.72" y2="348.10" stroke="#1c1c1c" stroke-width="0.95"/>
<line x1="564.70" y1="346.50" x2="564.70" y2="348.10" stroke="#1c1c1c" stroke-width="0.95"/>
<line x1="572.31" y1="346.50" x2="572.31" y2="348.10" stroke="#1c1c1c" stroke-width="0.95"/>
<line x1="577.71" y1="346.50" x2="577.71" y2="348.10" stroke="#1c1c1c" stroke-width="0.95"/>
<line x1="581.90" y1="346.50" x2="581.90" y2="348.10" stroke="#1c1c1c" stroke-width="0.95"/>
<line x1="585.32" y1="346.50" x2="585.32" y2="348.10" stroke="#1c1c1c" stroke-width="0.95"/>
<line x1="588.21" y1="346.50" x2="588.21" y2="348.10" stroke="#1c1c1c" stroke-width="0.95"/>
<line x1="590.71" y1="346.50" x2="590.71" y2="348.10" stroke="#1c1c1c" stroke-width="0.95"/>
<line x1="592.92" y1="346.50" x2="592.92" y2="348.10" stroke="#1c1c1c" stroke-width="0.95"/>
<line x1="607.90" y1="346.50" x2="607.90" y2="348.10" stroke="#1c1c1c" stroke-width="0.95"/>
<line x1="615.51" y1="346.50" x2="615.51" y2="348.10" stroke="#1c1c1c" stroke-width="0.95"/>
<line x1="620.91" y1="346.50" x2="620.91" y2="348.10" stroke="#1c1c1c" stroke-width="0.95"/>
<line x1="625.10" y1="346.50" x2="625.10" y2="348.10" stroke="#1c1c1c" stroke-width="0.95"/>
<line x1="628.52" y1="346.50" x2="628.52" y2="348.10" stroke="#1c1c1c" stroke-width="0.95"/>
<line x1="631.41" y1="346.50" x2="631.41" y2="348.10" stroke="#1c1c1c" stroke-width="0.95"/>
<line x1="633.91" y1="346.50" x2="633.91" y2="348.10" stroke="#1c1c1c" stroke-width="0.95"/>
<line x1="636.12" y1="346.50" x2="636.12" y2="348.10" stroke="#1c1c1c" stroke-width="0.95"/>
<text x="584.10" y="232.40" font-size="10.2" text-anchor="middle" fill="#1c1c1c" textLength="54.50" lengthAdjust="spacingAndGlyphs">H3K27me3</text>
<text x="0" y="0" font-size="9.5" text-anchor="middle" dominant-baseline="central" fill="#1c1c1c" textLength="36.00" lengthAdjust="spacingAndGlyphs" transform="translate(536.00,364.54) rotate(45)">GeneTSS</text>
<g transform="translate(552.50,357.00) rotate(45)"><text x="-6.5" y="3.0" font-size="9.0" fill="#1c1c1c" textLength="10.0" lengthAdjust="spacingAndGlyphs">10</text><text x="3.9" y="-0.2" font-size="5.6" fill="#1c1c1c" style="stroke-width:0.3px">4</text></g>
<g transform="translate(595.70,357.00) rotate(45)"><text x="-6.5" y="3.0" font-size="9.0" fill="#1c1c1c" textLength="10.0" lengthAdjust="spacingAndGlyphs">10</text><text x="3.9" y="-0.2" font-size="5.6" fill="#1c1c1c" style="stroke-width:0.3px">5</text></g>
<g transform="translate(638.80,357.00) rotate(45)"><text x="-6.5" y="3.0" font-size="9.0" fill="#1c1c1c" textLength="10.0" lengthAdjust="spacingAndGlyphs">10</text><text x="3.9" y="-0.2" font-size="5.6" fill="#1c1c1c" style="stroke-width:0.3px">6</text></g>
<text x="0" y="0" font-size="10.1" text-anchor="middle" fill="#1c1c1c" textLength="74" lengthAdjust="spacingAndGlyphs" transform="translate(74.6,291.8) rotate(-90)">Neighbor score</text>
<text x="226.60" y="221.50" font-size="12.6" text-anchor="middle" fill="#1c1c1c" textLength="40.80" lengthAdjust="spacingAndGlyphs">Signac</text>
<text x="515.30" y="221.30" font-size="12.6" text-anchor="middle" fill="#1c1c1c" textLength="102.60" lengthAdjust="spacingAndGlyphs">ChromSCape_LSI</text>
<text x="343.60" y="385.60" font-size="10.1" text-anchor="start" fill="#1c1c1c" textLength="58.50" lengthAdjust="spacingAndGlyphs">Binsize (bp)</text>
<rect x="176.3" y="390.2" width="388.2" height="28.2" rx="1" ry="1" fill="#fff" stroke="#e0e0e0" stroke-width="1.0"/>
<text x="262.00" y="401.90" font-size="10.1" text-anchor="start" fill="#1c1c1c" textLength="217.80" lengthAdjust="spacingAndGlyphs">Percentage of features kept (HVG selection)</text>
<line x1="178.30" y1="410.8" x2="196.60" y2="410.8" stroke="#86d4a9" stroke-width="1.8"/>
<circle cx="187.45" cy="410.8" r="1.9" fill="#86d4a9" stroke="#fff" stroke-width="1.3"/>
<text x="202.80" y="414.00" font-size="9.8" text-anchor="start" fill="#1c1c1c" textLength="13.40" lengthAdjust="spacingAndGlyphs">1%</text>
<line x1="230.90" y1="410.8" x2="249.20" y2="410.8" stroke="#47bca9" stroke-width="1.8"/>
<circle cx="240.05" cy="410.8" r="1.9" fill="#47bca9" stroke="#fff" stroke-width="1.3"/>
<text x="255.20" y="414.00" font-size="9.8" text-anchor="start" fill="#1c1c1c" textLength="13.20" lengthAdjust="spacingAndGlyphs">5%</text>
<line x1="283.50" y1="410.8" x2="301.80" y2="410.8" stroke="#3596a8" stroke-width="1.8"/>
<circle cx="292.65" cy="410.8" r="1.9" fill="#3596a8" stroke="#fff" stroke-width="1.3"/>
<text x="307.70" y="414.00" font-size="9.8" text-anchor="start" fill="#1c1c1c" textLength="18.30" lengthAdjust="spacingAndGlyphs">10%</text>
<line x1="341.40" y1="410.8" x2="359.70" y2="410.8" stroke="#3577a9" stroke-width="1.8"/>
<circle cx="350.55" cy="410.8" r="1.9" fill="#3577a9" stroke="#fff" stroke-width="1.3"/>
<text x="365.10" y="414.00" font-size="9.8" text-anchor="start" fill="#1c1c1c" textLength="18.60" lengthAdjust="spacingAndGlyphs">20%</text>
<line x1="398.50" y1="410.8" x2="416.80" y2="410.8" stroke="#3e53a0" stroke-width="1.8"/>
<circle cx="407.65" cy="410.8" r="1.9" fill="#3e53a0" stroke="#fff" stroke-width="1.3"/>
<text x="422.70" y="414.00" font-size="9.8" text-anchor="start" fill="#1c1c1c" textLength="19.10" lengthAdjust="spacingAndGlyphs">50%</text>
<line x1="456.40" y1="410.8" x2="474.70" y2="410.8" stroke="#3b2d6b" stroke-width="1.8"/>
<circle cx="465.55" cy="410.8" r="1.9" fill="#3b2d6b" stroke="#fff" stroke-width="1.3"/>
<text x="480.50" y="414.00" font-size="9.8" text-anchor="start" fill="#1c1c1c" textLength="18.80" lengthAdjust="spacingAndGlyphs">75%</text>
<line x1="514.10" y1="410.8" x2="532.40" y2="410.8" stroke="#1e1230" stroke-width="1.8"/>
<circle cx="523.25" cy="410.8" r="1.9" fill="#1e1230" stroke="#fff" stroke-width="1.3"/>
<text x="538.10" y="414.00" font-size="9.8" text-anchor="start" fill="#1c1c1c" textLength="23.90" lengthAdjust="spacingAndGlyphs">100%</text>
</svg></body></html>
